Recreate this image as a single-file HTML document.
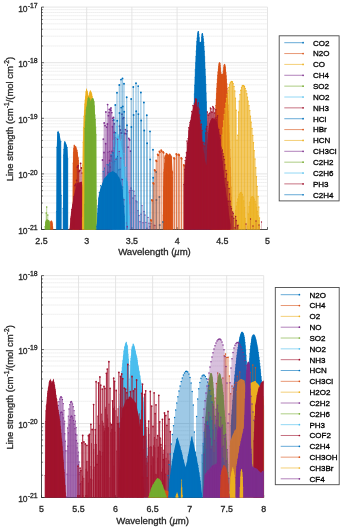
<!DOCTYPE html>
<html><head><meta charset="utf-8"><title>Line strength vs wavelength</title>
<style>html,body{margin:0;padding:0;background:#fff}svg{display:block}text{font-family:"Liberation Sans", sans-serif;stroke:#262626;stroke-width:0.3px;paint-order:stroke}</style>
</head><body>
<svg width="342" height="528" viewBox="0 0 342 528">
<rect width="342" height="528" fill="#fff"/>
<g><line x1="41.5" x2="267.5" y1="229.50" y2="229.50" stroke="#e2e2e2" stroke-width="0.9"/><line x1="41.5" x2="267.5" y1="212.76" y2="212.76" stroke="#d2d2d2" stroke-width="0.7" stroke-dasharray="0.9 1.1"/><line x1="41.5" x2="267.5" y1="202.97" y2="202.97" stroke="#d2d2d2" stroke-width="0.7" stroke-dasharray="0.9 1.1"/><line x1="41.5" x2="267.5" y1="196.03" y2="196.03" stroke="#d2d2d2" stroke-width="0.7" stroke-dasharray="0.9 1.1"/><line x1="41.5" x2="267.5" y1="190.64" y2="190.64" stroke="#d2d2d2" stroke-width="0.7" stroke-dasharray="0.9 1.1"/><line x1="41.5" x2="267.5" y1="186.23" y2="186.23" stroke="#d2d2d2" stroke-width="0.7" stroke-dasharray="0.9 1.1"/><line x1="41.5" x2="267.5" y1="182.51" y2="182.51" stroke="#d2d2d2" stroke-width="0.7" stroke-dasharray="0.9 1.1"/><line x1="41.5" x2="267.5" y1="179.29" y2="179.29" stroke="#d2d2d2" stroke-width="0.7" stroke-dasharray="0.9 1.1"/><line x1="41.5" x2="267.5" y1="176.44" y2="176.44" stroke="#d2d2d2" stroke-width="0.7" stroke-dasharray="0.9 1.1"/><line x1="41.5" x2="267.5" y1="173.90" y2="173.90" stroke="#e2e2e2" stroke-width="0.9"/><line x1="41.5" x2="267.5" y1="157.16" y2="157.16" stroke="#d2d2d2" stroke-width="0.7" stroke-dasharray="0.9 1.1"/><line x1="41.5" x2="267.5" y1="147.37" y2="147.37" stroke="#d2d2d2" stroke-width="0.7" stroke-dasharray="0.9 1.1"/><line x1="41.5" x2="267.5" y1="140.43" y2="140.43" stroke="#d2d2d2" stroke-width="0.7" stroke-dasharray="0.9 1.1"/><line x1="41.5" x2="267.5" y1="135.04" y2="135.04" stroke="#d2d2d2" stroke-width="0.7" stroke-dasharray="0.9 1.1"/><line x1="41.5" x2="267.5" y1="130.63" y2="130.63" stroke="#d2d2d2" stroke-width="0.7" stroke-dasharray="0.9 1.1"/><line x1="41.5" x2="267.5" y1="126.91" y2="126.91" stroke="#d2d2d2" stroke-width="0.7" stroke-dasharray="0.9 1.1"/><line x1="41.5" x2="267.5" y1="123.69" y2="123.69" stroke="#d2d2d2" stroke-width="0.7" stroke-dasharray="0.9 1.1"/><line x1="41.5" x2="267.5" y1="120.84" y2="120.84" stroke="#d2d2d2" stroke-width="0.7" stroke-dasharray="0.9 1.1"/><line x1="41.5" x2="267.5" y1="118.30" y2="118.30" stroke="#e2e2e2" stroke-width="0.9"/><line x1="41.5" x2="267.5" y1="101.56" y2="101.56" stroke="#d2d2d2" stroke-width="0.7" stroke-dasharray="0.9 1.1"/><line x1="41.5" x2="267.5" y1="91.77" y2="91.77" stroke="#d2d2d2" stroke-width="0.7" stroke-dasharray="0.9 1.1"/><line x1="41.5" x2="267.5" y1="84.83" y2="84.83" stroke="#d2d2d2" stroke-width="0.7" stroke-dasharray="0.9 1.1"/><line x1="41.5" x2="267.5" y1="79.44" y2="79.44" stroke="#d2d2d2" stroke-width="0.7" stroke-dasharray="0.9 1.1"/><line x1="41.5" x2="267.5" y1="75.03" y2="75.03" stroke="#d2d2d2" stroke-width="0.7" stroke-dasharray="0.9 1.1"/><line x1="41.5" x2="267.5" y1="71.31" y2="71.31" stroke="#d2d2d2" stroke-width="0.7" stroke-dasharray="0.9 1.1"/><line x1="41.5" x2="267.5" y1="68.09" y2="68.09" stroke="#d2d2d2" stroke-width="0.7" stroke-dasharray="0.9 1.1"/><line x1="41.5" x2="267.5" y1="65.24" y2="65.24" stroke="#d2d2d2" stroke-width="0.7" stroke-dasharray="0.9 1.1"/><line x1="41.5" x2="267.5" y1="62.70" y2="62.70" stroke="#e2e2e2" stroke-width="0.9"/><line x1="41.5" x2="267.5" y1="45.96" y2="45.96" stroke="#d2d2d2" stroke-width="0.7" stroke-dasharray="0.9 1.1"/><line x1="41.5" x2="267.5" y1="36.17" y2="36.17" stroke="#d2d2d2" stroke-width="0.7" stroke-dasharray="0.9 1.1"/><line x1="41.5" x2="267.5" y1="29.23" y2="29.23" stroke="#d2d2d2" stroke-width="0.7" stroke-dasharray="0.9 1.1"/><line x1="41.5" x2="267.5" y1="23.84" y2="23.84" stroke="#d2d2d2" stroke-width="0.7" stroke-dasharray="0.9 1.1"/><line x1="41.5" x2="267.5" y1="19.43" y2="19.43" stroke="#d2d2d2" stroke-width="0.7" stroke-dasharray="0.9 1.1"/><line x1="41.5" x2="267.5" y1="15.71" y2="15.71" stroke="#d2d2d2" stroke-width="0.7" stroke-dasharray="0.9 1.1"/><line x1="41.5" x2="267.5" y1="12.49" y2="12.49" stroke="#d2d2d2" stroke-width="0.7" stroke-dasharray="0.9 1.1"/><line x1="41.5" x2="267.5" y1="9.64" y2="9.64" stroke="#d2d2d2" stroke-width="0.7" stroke-dasharray="0.9 1.1"/><line x1="41.5" x2="267.5" y1="7.10" y2="7.10" stroke="#e2e2e2" stroke-width="0.9"/><line x1="41.50" x2="41.50" y1="7.1" y2="229.5" stroke="#e2e2e2" stroke-width="0.9"/><line x1="86.70" x2="86.70" y1="7.1" y2="229.5" stroke="#e2e2e2" stroke-width="0.9"/><line x1="131.90" x2="131.90" y1="7.1" y2="229.5" stroke="#e2e2e2" stroke-width="0.9"/><line x1="177.10" x2="177.10" y1="7.1" y2="229.5" stroke="#e2e2e2" stroke-width="0.9"/><line x1="222.30" x2="222.30" y1="7.1" y2="229.5" stroke="#e2e2e2" stroke-width="0.9"/><line x1="267.50" x2="267.50" y1="7.1" y2="229.5" stroke="#e2e2e2" stroke-width="0.9"/></g>
<g><line x1="41.5" x2="263.7" y1="497.50" y2="497.50" stroke="#e2e2e2" stroke-width="0.9"/><line x1="41.5" x2="263.7" y1="475.23" y2="475.23" stroke="#d2d2d2" stroke-width="0.7" stroke-dasharray="0.9 1.1"/><line x1="41.5" x2="263.7" y1="462.21" y2="462.21" stroke="#d2d2d2" stroke-width="0.7" stroke-dasharray="0.9 1.1"/><line x1="41.5" x2="263.7" y1="452.97" y2="452.97" stroke="#d2d2d2" stroke-width="0.7" stroke-dasharray="0.9 1.1"/><line x1="41.5" x2="263.7" y1="445.80" y2="445.80" stroke="#d2d2d2" stroke-width="0.7" stroke-dasharray="0.9 1.1"/><line x1="41.5" x2="263.7" y1="439.94" y2="439.94" stroke="#d2d2d2" stroke-width="0.7" stroke-dasharray="0.9 1.1"/><line x1="41.5" x2="263.7" y1="434.99" y2="434.99" stroke="#d2d2d2" stroke-width="0.7" stroke-dasharray="0.9 1.1"/><line x1="41.5" x2="263.7" y1="430.70" y2="430.70" stroke="#d2d2d2" stroke-width="0.7" stroke-dasharray="0.9 1.1"/><line x1="41.5" x2="263.7" y1="426.92" y2="426.92" stroke="#d2d2d2" stroke-width="0.7" stroke-dasharray="0.9 1.1"/><line x1="41.5" x2="263.7" y1="423.53" y2="423.53" stroke="#e2e2e2" stroke-width="0.9"/><line x1="41.5" x2="263.7" y1="401.27" y2="401.27" stroke="#d2d2d2" stroke-width="0.7" stroke-dasharray="0.9 1.1"/><line x1="41.5" x2="263.7" y1="388.24" y2="388.24" stroke="#d2d2d2" stroke-width="0.7" stroke-dasharray="0.9 1.1"/><line x1="41.5" x2="263.7" y1="379.00" y2="379.00" stroke="#d2d2d2" stroke-width="0.7" stroke-dasharray="0.9 1.1"/><line x1="41.5" x2="263.7" y1="371.83" y2="371.83" stroke="#d2d2d2" stroke-width="0.7" stroke-dasharray="0.9 1.1"/><line x1="41.5" x2="263.7" y1="365.98" y2="365.98" stroke="#d2d2d2" stroke-width="0.7" stroke-dasharray="0.9 1.1"/><line x1="41.5" x2="263.7" y1="361.02" y2="361.02" stroke="#d2d2d2" stroke-width="0.7" stroke-dasharray="0.9 1.1"/><line x1="41.5" x2="263.7" y1="356.73" y2="356.73" stroke="#d2d2d2" stroke-width="0.7" stroke-dasharray="0.9 1.1"/><line x1="41.5" x2="263.7" y1="352.95" y2="352.95" stroke="#d2d2d2" stroke-width="0.7" stroke-dasharray="0.9 1.1"/><line x1="41.5" x2="263.7" y1="349.57" y2="349.57" stroke="#e2e2e2" stroke-width="0.9"/><line x1="41.5" x2="263.7" y1="327.30" y2="327.30" stroke="#d2d2d2" stroke-width="0.7" stroke-dasharray="0.9 1.1"/><line x1="41.5" x2="263.7" y1="314.28" y2="314.28" stroke="#d2d2d2" stroke-width="0.7" stroke-dasharray="0.9 1.1"/><line x1="41.5" x2="263.7" y1="305.03" y2="305.03" stroke="#d2d2d2" stroke-width="0.7" stroke-dasharray="0.9 1.1"/><line x1="41.5" x2="263.7" y1="297.87" y2="297.87" stroke="#d2d2d2" stroke-width="0.7" stroke-dasharray="0.9 1.1"/><line x1="41.5" x2="263.7" y1="292.01" y2="292.01" stroke="#d2d2d2" stroke-width="0.7" stroke-dasharray="0.9 1.1"/><line x1="41.5" x2="263.7" y1="287.06" y2="287.06" stroke="#d2d2d2" stroke-width="0.7" stroke-dasharray="0.9 1.1"/><line x1="41.5" x2="263.7" y1="282.77" y2="282.77" stroke="#d2d2d2" stroke-width="0.7" stroke-dasharray="0.9 1.1"/><line x1="41.5" x2="263.7" y1="278.98" y2="278.98" stroke="#d2d2d2" stroke-width="0.7" stroke-dasharray="0.9 1.1"/><line x1="41.5" x2="263.7" y1="275.60" y2="275.60" stroke="#e2e2e2" stroke-width="0.9"/><line x1="41.50" x2="41.50" y1="275.6" y2="497.5" stroke="#e2e2e2" stroke-width="0.9"/><line x1="78.53" x2="78.53" y1="275.6" y2="497.5" stroke="#e2e2e2" stroke-width="0.9"/><line x1="115.57" x2="115.57" y1="275.6" y2="497.5" stroke="#e2e2e2" stroke-width="0.9"/><line x1="152.60" x2="152.60" y1="275.6" y2="497.5" stroke="#e2e2e2" stroke-width="0.9"/><line x1="189.63" x2="189.63" y1="275.6" y2="497.5" stroke="#e2e2e2" stroke-width="0.9"/><line x1="226.67" x2="226.67" y1="275.6" y2="497.5" stroke="#e2e2e2" stroke-width="0.9"/><line x1="263.70" x2="263.70" y1="275.6" y2="497.5" stroke="#e2e2e2" stroke-width="0.9"/></g>
<g><path d="M41.5 7.1V229.5H267.5" fill="none" stroke="#262626" stroke-width="0.8"/><path d="M41.5 229.50h2.4M41.5 212.76h1.3M41.5 202.97h1.3M41.5 196.03h1.3M41.5 190.64h1.3M41.5 186.23h1.3M41.5 182.51h1.3M41.5 179.29h1.3M41.5 176.44h1.3M41.5 173.90h2.4M41.5 157.16h1.3M41.5 147.37h1.3M41.5 140.43h1.3M41.5 135.04h1.3M41.5 130.63h1.3M41.5 126.91h1.3M41.5 123.69h1.3M41.5 120.84h1.3M41.5 118.30h2.4M41.5 101.56h1.3M41.5 91.77h1.3M41.5 84.83h1.3M41.5 79.44h1.3M41.5 75.03h1.3M41.5 71.31h1.3M41.5 68.09h1.3M41.5 65.24h1.3M41.5 62.70h2.4M41.5 45.96h1.3M41.5 36.17h1.3M41.5 29.23h1.3M41.5 23.84h1.3M41.5 19.43h1.3M41.5 15.71h1.3M41.5 12.49h1.3M41.5 9.64h1.3M41.5 7.10h2.4M41.50 229.5v-2.4M86.70 229.5v-2.4M131.90 229.5v-2.4M177.10 229.5v-2.4M222.30 229.5v-2.4M267.50 229.5v-2.4" fill="none" stroke="#262626" stroke-width="0.7"/></g>
<g><path d="M41.5 275.6V497.5H263.7" fill="none" stroke="#262626" stroke-width="0.8"/><path d="M41.5 497.50h2.4M41.5 475.23h1.3M41.5 462.21h1.3M41.5 452.97h1.3M41.5 445.80h1.3M41.5 439.94h1.3M41.5 434.99h1.3M41.5 430.70h1.3M41.5 426.92h1.3M41.5 423.53h2.4M41.5 401.27h1.3M41.5 388.24h1.3M41.5 379.00h1.3M41.5 371.83h1.3M41.5 365.98h1.3M41.5 361.02h1.3M41.5 356.73h1.3M41.5 352.95h1.3M41.5 349.57h2.4M41.5 327.30h1.3M41.5 314.28h1.3M41.5 305.03h1.3M41.5 297.87h1.3M41.5 292.01h1.3M41.5 287.06h1.3M41.5 282.77h1.3M41.5 278.98h1.3M41.5 275.60h2.4M41.50 497.5v-2.4M78.53 497.5v-2.4M115.57 497.5v-2.4M152.60 497.5v-2.4M189.63 497.5v-2.4M226.67 497.5v-2.4M263.70 497.5v-2.4" fill="none" stroke="#262626" stroke-width="0.7"/></g>
<path d="M56.4 229.5L56.4 209.6L56.8 146.8L57.2 134.0L57.6 132.3L58.0 130.6L58.4 131.6L58.8 132.5L59.2 133.8L59.6 135.4L60.0 137.0L60.4 139.0L60.8 141.0L61.2 194.7L61.2 229.5Z" fill="#0072BD" fill-opacity="1.0" stroke="none"/>
<path d="M56.4 229.5V211.5M56.7 229.5V147.3M57.7 229.5V132.4M58.1 229.5V132.1M58.4 229.5V132.3M58.8 229.5V133.4M59.3 229.5V134.1M59.5 229.5V136.0M60.5 229.5V142.1M60.9 229.5V141.5M61.3 229.5V195.4" fill="none" stroke="#0072BD" stroke-width="0.5" stroke-opacity="1.0"/>
<path d="M56.4 211.5h0M56.7 147.3h0M57.7 132.4h0M58.1 132.1h0M58.4 132.3h0M58.8 133.4h0M59.3 134.1h0M59.5 136.0h0M60.5 142.1h0M60.9 141.5h0M61.3 195.4h0" fill="none" stroke="#0072BD" stroke-width="1.0" stroke-linecap="round"/>
<path d="M63.1 229.5L63.1 206.3L63.5 154.0L63.9 144.4L64.3 141.8L64.7 140.8L65.1 141.4L65.5 142.0L65.9 143.1L66.3 144.1L66.7 145.2L67.1 146.8L67.5 149.8L67.9 157.8L67.9 229.5Z" fill="#0072BD" fill-opacity="1.0" stroke="none"/>
<path d="M63.0 229.5V208.4M63.5 229.5V155.1M63.8 229.5V149.4M64.3 229.5V143.2M64.8 229.5V142.0M65.2 229.5V145.0M65.4 229.5V143.7M65.9 229.5V147.3M66.2 229.5V145.1M66.6 229.5V146.7M67.2 229.5V147.5M67.8 229.5V158.7" fill="none" stroke="#0072BD" stroke-width="0.5" stroke-opacity="1.0"/>
<path d="M63.0 208.4h0M63.5 155.1h0M63.8 149.4h0M64.3 143.2h0M64.8 142.0h0M65.2 145.0h0M65.4 143.7h0M65.9 147.3h0M66.2 145.1h0M66.6 146.7h0M67.2 147.5h0M67.8 158.7h0" fill="none" stroke="#0072BD" stroke-width="1.0" stroke-linecap="round"/>
<path d="M189.0 229.5L189.0 229.5L189.3 229.5L189.6 229.5L189.9 229.5L190.2 229.5L190.5 229.5L190.8 229.5L191.1 226.3L191.4 211.5L191.7 197.3L192.0 183.6L192.3 170.4L192.6 157.8L192.9 145.8L193.2 134.3L193.5 123.3L193.8 112.9L194.1 103.1L194.4 93.9L194.7 85.3L195.0 77.2L195.3 69.7L195.6 62.9L195.9 56.6L196.2 51.0L196.5 46.0L196.8 41.7L197.1 38.1L197.4 35.2L197.7 33.1L198.0 31.8L198.3 31.5L198.6 32.2L198.9 34.3L199.2 37.9L199.5 42.5L199.8 42.5L200.1 42.5L200.4 42.5L200.7 42.5L201.0 42.5L201.3 41.6L201.6 37.3L201.9 34.8L202.2 33.6L202.5 33.6L202.8 34.6L203.1 36.4L203.4 39.0L203.7 42.4L204.0 46.5L204.3 51.3L204.6 56.7L204.9 62.7L205.2 69.4L205.5 76.6L205.8 84.5L206.1 93.0L206.4 102.0L206.7 111.6L207.0 121.8L207.3 132.5L207.6 143.9L207.9 155.7L208.2 168.2L208.5 181.1L208.8 194.7L209.1 208.7L209.4 223.3L209.7 229.5L210.0 229.5L210.3 229.5L210.6 229.5L210.9 229.5L211.2 229.5L211.5 229.5L211.8 229.5L211.8 229.5Z" fill="#0072BD" fill-opacity="1.0" stroke="none"/>
<path d="M191.2 229.5V226.3M191.5 229.5V211.5M191.7 229.5V197.3M192.1 229.5V183.6M192.2 229.5V170.4M192.5 229.5V157.8M192.9 229.5V145.8M193.1 229.5V134.3M193.4 229.5V123.3M193.8 229.5V112.9M194.1 229.5V103.1M194.3 229.5V93.9M194.6 229.5V85.3M195.1 229.5V77.2M195.2 229.5V69.7M195.7 229.5V62.9M196.0 229.5V56.6M196.2 229.5V51.0M196.5 229.5V46.0M196.8 229.5V41.7M197.1 229.5V38.1M197.4 229.5V35.2M197.7 229.5V33.1M198.0 229.5V31.8M198.4 229.5V31.5M198.6 229.5V32.2M198.9 229.5V34.3M199.3 229.5V37.9M199.4 229.5V42.5M199.7 229.5V42.5M200.2 229.5V42.5M200.4 229.5V42.5M200.7 229.5V42.5M200.9 229.5V42.5M201.3 229.5V41.6M201.6 229.5V37.3M201.8 229.5V34.8M202.2 229.5V33.6M202.5 229.5V33.6M202.7 229.5V34.6M203.1 229.5V36.4M203.4 229.5V39.0M203.8 229.5V42.4M204.0 229.5V46.5M204.4 229.5V51.3M204.7 229.5V56.7M204.8 229.5V62.7M205.1 229.5V69.4M205.6 229.5V76.6M205.9 229.5V84.5M206.0 229.5V93.0M206.4 229.5V102.0M206.7 229.5V111.6M206.9 229.5V121.8M207.3 229.5V132.5M207.5 229.5V143.9M207.9 229.5V155.7M208.2 229.5V168.2M208.4 229.5V181.1M208.8 229.5V194.7M209.2 229.5V208.7M209.3 229.5V223.3" fill="none" stroke="#0072BD" stroke-width="0.5" stroke-opacity="1.0"/>
<path d="M191.2 226.3h0M191.5 211.5h0M191.7 197.3h0M192.1 183.6h0M192.2 170.4h0M192.5 157.8h0M192.9 145.8h0M193.1 134.3h0M193.4 123.3h0M193.8 112.9h0M194.1 103.1h0M194.3 93.9h0M194.6 85.3h0M195.1 77.2h0M195.2 69.7h0M195.7 62.9h0M196.0 56.6h0M196.2 51.0h0M196.5 46.0h0M196.8 41.7h0M197.1 38.1h0M197.4 35.2h0M197.7 33.1h0M198.0 31.8h0M198.4 31.5h0M198.6 32.2h0M198.9 34.3h0M199.3 37.9h0M199.4 42.5h0M199.7 42.5h0M200.2 42.5h0M200.4 42.5h0M200.7 42.5h0M200.9 42.5h0M201.3 41.6h0M201.6 37.3h0M201.8 34.8h0M202.2 33.6h0M202.5 33.6h0M202.7 34.6h0M203.1 36.4h0M203.4 39.0h0M203.8 42.4h0M204.0 46.5h0M204.4 51.3h0M204.7 56.7h0M204.8 62.7h0M205.1 69.4h0M205.6 76.6h0M205.9 84.5h0M206.0 93.0h0M206.4 102.0h0M206.7 111.6h0M206.9 121.8h0M207.3 132.5h0M207.5 143.9h0M207.9 155.7h0M208.2 168.2h0M208.4 181.1h0M208.8 194.7h0M209.2 208.7h0M209.3 223.3h0" fill="none" stroke="#0072BD" stroke-width="1.0" stroke-linecap="round"/>
<path d="M50.0 229.5L50.0 229.5L50.4 221.5L50.8 220.8L51.2 220.2L51.6 220.4L52.0 221.0L52.4 221.5L52.8 225.5L53.2 229.5L53.2 229.5Z" fill="#D95319" fill-opacity="1.0" stroke="none"/>
<path d="M50.4 229.5V222.6M50.9 229.5V221.6M51.1 229.5V222.9M51.6 229.5V221.5M52.0 229.5V222.8M52.3 229.5V224.0M52.7 229.5V226.8" fill="none" stroke="#D95319" stroke-width="0.5" stroke-opacity="1.0"/>
<path d="M50.4 222.6h0M50.9 221.6h0M51.1 222.9h0M51.6 221.5h0M52.0 222.8h0M52.3 224.0h0M52.7 226.8h0" fill="none" stroke="#D95319" stroke-width="1.0" stroke-linecap="round"/>
<path d="M72.6 229.5L72.6 213.4L73.0 162.0L73.4 150.0L73.8 145.9L74.2 144.4L74.6 144.9L75.0 145.4L75.4 145.9L75.8 146.8L76.2 147.9L76.6 148.9L77.0 150.0L77.4 152.1L77.8 154.3L78.2 156.4L78.6 160.4L79.0 170.1L79.0 229.5Z" fill="#D95319" fill-opacity="1.0" stroke="none"/>
<path d="M72.5 229.5V214.0M73.1 229.5V163.1M73.4 229.5V152.3M73.7 229.5V148.7M74.1 229.5V145.3M74.6 229.5V148.3M75.0 229.5V147.2M75.5 229.5V146.9M75.9 229.5V146.9M76.3 229.5V148.0M76.7 229.5V151.1M77.1 229.5V150.2M77.5 229.5V152.7M77.8 229.5V157.5M78.2 229.5V158.0M78.5 229.5V160.6M78.9 229.5V172.6" fill="none" stroke="#D95319" stroke-width="0.5" stroke-opacity="1.0"/>
<path d="M72.5 214.0h0M73.1 163.1h0M73.4 152.3h0M73.7 148.7h0M74.1 145.3h0M74.6 148.3h0M75.0 147.2h0M75.5 146.9h0M75.9 146.9h0M76.3 148.0h0M76.7 151.1h0M77.1 150.2h0M77.5 152.7h0M77.8 157.5h0M78.2 158.0h0M78.5 160.6h0M78.9 172.6h0" fill="none" stroke="#D95319" stroke-width="1.0" stroke-linecap="round"/>
<path d="M163.0 229.5L163.0 213.9L163.4 182.8L163.8 171.2L164.2 166.1L164.6 161.1L165.0 156.0L165.4 155.1L165.8 154.1L166.2 153.2L166.6 152.7L167.0 153.3L167.4 154.0L167.8 154.7L168.2 154.8L168.6 154.5L169.0 154.2L169.4 153.9L169.8 153.6L170.2 153.9L170.6 154.7L171.0 155.4L171.4 156.2L171.8 157.0L172.2 166.2L172.6 175.4L172.6 229.5Z" fill="#D95319" fill-opacity="1.0" stroke="none"/>
<path d="M163.1 229.5V215.0M163.5 229.5V186.9M163.9 229.5V172.4M164.2 229.5V169.5M164.5 229.5V163.7M164.9 229.5V156.0M165.4 229.5V156.3M165.9 229.5V156.2M166.2 229.5V153.5M166.7 229.5V153.5M167.0 229.5V154.6M167.3 229.5V154.4M167.8 229.5V156.5M168.3 229.5V155.3M168.7 229.5V155.7M168.9 229.5V155.5M169.4 229.5V157.4M169.7 229.5V154.1M170.1 229.5V154.4M170.6 229.5V156.7M171.1 229.5V155.8M171.3 229.5V156.9M171.7 229.5V157.0M172.3 229.5V171.1M172.5 229.5V177.7" fill="none" stroke="#D95319" stroke-width="0.5" stroke-opacity="1.0"/>
<path d="M163.1 215.0h0M163.5 186.9h0M163.9 172.4h0M164.2 169.5h0M164.5 163.7h0M164.9 156.0h0M165.4 156.3h0M165.9 156.2h0M166.2 153.5h0M166.7 153.5h0M167.0 154.6h0M167.3 154.4h0M167.8 156.5h0M168.3 155.3h0M168.7 155.7h0M168.9 155.5h0M169.4 157.4h0M169.7 154.1h0M170.1 154.4h0M170.6 156.7h0M171.1 155.8h0M171.3 156.9h0M171.7 157.0h0M172.3 171.1h0M172.5 177.7h0" fill="none" stroke="#D95319" stroke-width="1.0" stroke-linecap="round"/>
<path d="M211.0 229.5L211.0 229.5L211.3 229.5L211.6 229.5L211.9 221.6L212.2 210.3L212.5 199.4L212.8 188.9L213.1 178.8L213.4 169.1L213.7 159.7L214.0 150.8L214.3 142.2L214.6 134.1L214.9 126.3L215.2 119.0L215.5 112.0L215.8 105.5L216.1 99.4L216.4 93.7L216.7 88.5L217.0 83.7L217.3 79.3L217.6 75.4L217.9 72.0L218.2 69.1L218.5 66.7L218.8 64.8L219.1 63.5L219.4 62.8L219.7 62.8L220.0 63.6L220.3 65.3L220.6 68.1L220.9 72.4L221.2 74.4L221.5 74.4L221.8 74.4L222.1 74.4L222.4 74.4L222.7 74.4L223.0 74.4L223.3 71.0L223.6 67.8L223.9 65.7L224.2 64.7L224.5 64.4L224.8 64.9L225.1 66.0L225.4 67.7L225.7 69.9L226.0 72.7L226.3 75.9L226.6 79.7L226.9 83.9L227.2 88.5L227.5 93.6L227.8 99.2L228.1 105.1L228.4 111.5L228.7 118.3L229.0 125.5L229.3 133.2L229.6 141.2L229.9 149.6L230.2 158.4L230.5 167.6L230.8 177.2L231.1 187.2L231.4 197.6L231.7 208.4L232.0 219.5L232.3 229.5L232.6 229.5L232.9 229.5L233.2 229.5L233.5 229.5L233.8 229.5L233.8 229.5Z" fill="#D95319" fill-opacity="1.0" stroke="none"/>
<path d="M211.9 229.5V221.6M212.2 229.5V210.3M212.5 229.5V199.4M212.8 229.5V188.9M213.0 229.5V178.8M213.3 229.5V169.1M213.6 229.5V159.7M214.0 229.5V150.8M214.4 229.5V142.2M214.6 229.5V134.1M214.8 229.5V126.3M215.1 229.5V119.0M215.5 229.5V112.0M215.8 229.5V105.5M216.2 229.5V99.4M216.4 229.5V93.7M216.8 229.5V88.5M217.0 229.5V83.7M217.3 229.5V79.3M217.6 229.5V75.4M217.9 229.5V72.0M218.3 229.5V69.1M218.5 229.5V66.7M218.9 229.5V64.8M219.1 229.5V63.5M219.3 229.5V62.8M219.7 229.5V62.8M220.1 229.5V63.6M220.2 229.5V65.3M220.6 229.5V68.1M220.9 229.5V72.4M221.3 229.5V74.4M221.6 229.5V74.4M221.8 229.5V74.4M222.2 229.5V74.4M222.5 229.5V74.4M222.6 229.5V74.4M223.0 229.5V74.4M223.2 229.5V71.0M223.7 229.5V67.8M223.9 229.5V65.7M224.3 229.5V64.7M224.6 229.5V64.4M224.9 229.5V64.9M225.2 229.5V66.0M225.4 229.5V67.7M225.6 229.5V69.9M226.0 229.5V72.7M226.2 229.5V75.9M226.5 229.5V79.7M227.0 229.5V83.9M227.1 229.5V88.5M227.4 229.5V93.6M227.7 229.5V99.2M228.2 229.5V105.1M228.3 229.5V111.5M228.6 229.5V118.3M229.1 229.5V125.5M229.2 229.5V133.2M229.7 229.5V141.2M230.0 229.5V149.6M230.3 229.5V158.4M230.6 229.5V167.6M230.8 229.5V177.2M231.2 229.5V187.2M231.3 229.5V197.6M231.8 229.5V208.4M232.0 229.5V219.5" fill="none" stroke="#D95319" stroke-width="0.5" stroke-opacity="1.0"/>
<path d="M211.9 221.6h0M212.2 210.3h0M212.5 199.4h0M212.8 188.9h0M213.0 178.8h0M213.3 169.1h0M213.6 159.7h0M214.0 150.8h0M214.4 142.2h0M214.6 134.1h0M214.8 126.3h0M215.1 119.0h0M215.5 112.0h0M215.8 105.5h0M216.2 99.4h0M216.4 93.7h0M216.8 88.5h0M217.0 83.7h0M217.3 79.3h0M217.6 75.4h0M217.9 72.0h0M218.3 69.1h0M218.5 66.7h0M218.9 64.8h0M219.1 63.5h0M219.3 62.8h0M219.7 62.8h0M220.1 63.6h0M220.2 65.3h0M220.6 68.1h0M220.9 72.4h0M221.3 74.4h0M221.6 74.4h0M221.8 74.4h0M222.2 74.4h0M222.5 74.4h0M222.6 74.4h0M223.0 74.4h0M223.2 71.0h0M223.7 67.8h0M223.9 65.7h0M224.3 64.7h0M224.6 64.4h0M224.9 64.9h0M225.2 66.0h0M225.4 67.7h0M225.6 69.9h0M226.0 72.7h0M226.2 75.9h0M226.5 79.7h0M227.0 83.9h0M227.1 88.5h0M227.4 93.6h0M227.7 99.2h0M228.2 105.1h0M228.3 111.5h0M228.6 118.3h0M229.1 125.5h0M229.2 133.2h0M229.7 141.2h0M230.0 149.6h0M230.3 158.4h0M230.6 167.6h0M230.8 177.2h0M231.2 187.2h0M231.3 197.6h0M231.8 208.4h0M232.0 219.5h0" fill="none" stroke="#D95319" stroke-width="1.0" stroke-linecap="round"/>
<path d="M222.0 229.5V135.3M222.8 229.5V127.9M223.5 229.5V121.0M224.2 229.5V114.6M225.0 229.5V108.7M225.8 229.5V103.3M226.5 229.5V98.5M227.2 229.5V94.2M228.0 229.5V90.5M228.8 229.5V87.4M229.5 229.5V84.8M230.2 229.5V83.0M231.0 229.5V81.9M231.8 229.5V81.5M232.5 229.5V82.0M233.2 229.5V83.6M234.0 229.5V86.4M234.8 229.5V90.9M235.5 229.5V98.1M236.2 229.5V110.3M237.0 229.5V140.1M237.8 229.5V135.2M238.5 229.5V112.0M239.2 229.5V101.1M240.0 229.5V94.5M240.8 229.5V90.2M241.5 229.5V87.6M242.2 229.5V86.0M243.0 229.5V85.5M243.8 229.5V85.8M244.5 229.5V86.8M245.2 229.5V88.5M246.0 229.5V90.8M246.8 229.5V93.7M247.5 229.5V97.1M248.2 229.5V101.1M249.0 229.5V105.6M249.8 229.5V110.6M250.5 229.5V116.1M251.2 229.5V122.1M252.0 229.5V128.5M252.8 229.5V135.4M253.5 229.5V142.8M254.2 229.5V150.6M255.0 229.5V158.9M255.8 229.5V167.7M256.5 229.5V176.8M257.2 229.5V186.4M258.0 229.5V196.5M258.8 229.5V207.0M259.5 229.5V217.9" fill="none" stroke="#EDB120" stroke-width="0.9" stroke-opacity="0.82"/>
<path d="M222.0 135.3h0M222.8 127.9h0M223.5 121.0h0M224.2 114.6h0M225.0 108.7h0M225.8 103.3h0M226.5 98.5h0M227.2 94.2h0M228.0 90.5h0M228.8 87.4h0M229.5 84.8h0M230.2 83.0h0M231.0 81.9h0M231.8 81.5h0M232.5 82.0h0M233.2 83.6h0M234.0 86.4h0M234.8 90.9h0M235.5 98.1h0M236.2 110.3h0M237.0 140.1h0M237.8 135.2h0M238.5 112.0h0M239.2 101.1h0M240.0 94.5h0M240.8 90.2h0M241.5 87.6h0M242.2 86.0h0M243.0 85.5h0M243.8 85.8h0M244.5 86.8h0M245.2 88.5h0M246.0 90.8h0M246.8 93.7h0M247.5 97.1h0M248.2 101.1h0M249.0 105.6h0M249.8 110.6h0M250.5 116.1h0M251.2 122.1h0M252.0 128.5h0M252.8 135.4h0M253.5 142.8h0M254.2 150.6h0M255.0 158.9h0M255.8 167.7h0M256.5 176.8h0M257.2 186.4h0M258.0 196.5h0M258.8 207.0h0M259.5 217.9h0" fill="none" stroke="#EDB120" stroke-width="1.4" stroke-linecap="round"/>
<path d="M233.3 229.5V226.9M234.1 229.5V220.9M234.8 229.5V215.4M235.6 229.5V210.5M236.3 229.5V206.1M237.1 229.5V202.3M237.8 229.5V199.0M238.6 229.5V196.4M239.3 229.5V194.4M240.1 229.5V193.1M240.8 229.5V192.6M241.6 229.5V192.9M242.3 229.5V194.3M243.1 229.5V196.8M243.8 229.5V200.9M244.6 229.5V207.5M245.3 229.5V218.3M247.6 229.5V226.2M248.3 229.5V213.9M249.1 229.5V206.7M249.8 229.5V202.1M250.6 229.5V199.1M251.3 229.5V197.4M252.1 229.5V196.6M252.8 229.5V196.8M253.6 229.5V197.7M254.3 229.5V199.2M255.1 229.5V201.4M255.8 229.5V204.2M256.6 229.5V207.5M257.3 229.5V211.4M258.1 229.5V215.8M258.8 229.5V220.7M259.6 229.5V226.1" fill="none" stroke="#EDB120" stroke-width="0.9" stroke-opacity="0.9"/>
<path d="M233.3 226.9h0M234.1 220.9h0M234.8 215.4h0M235.6 210.5h0M236.3 206.1h0M237.1 202.3h0M237.8 199.0h0M238.6 196.4h0M239.3 194.4h0M240.1 193.1h0M240.8 192.6h0M241.6 192.9h0M242.3 194.3h0M243.1 196.8h0M243.8 200.9h0M244.6 207.5h0M245.3 218.3h0M247.6 226.2h0M248.3 213.9h0M249.1 206.7h0M249.8 202.1h0M250.6 199.1h0M251.3 197.4h0M252.1 196.6h0M252.8 196.8h0M253.6 197.7h0M254.3 199.2h0M255.1 201.4h0M255.8 204.2h0M256.6 207.5h0M257.3 211.4h0M258.1 215.8h0M258.8 220.7h0M259.6 226.1h0" fill="none" stroke="#EDB120" stroke-width="1.3" stroke-linecap="round"/>
<path d="M102.5 229.5V160.0M103.3 229.5V139.1M104.2 229.5V123.0M105.0 229.5V125.7M105.9 229.5V112.0M106.7 229.5V127.1M107.6 229.5V104.6M108.4 229.5V115.7M109.3 229.5V109.3M110.1 229.5V109.5M111.0 229.5V107.9M111.8 229.5V112.6M112.7 229.5V118.2M113.5 229.5V117.4M114.4 229.5V132.4M115.2 229.5V138.1M116.1 229.5V200.9M116.9 229.5V154.9M117.8 229.5V140.4M118.6 229.5V145.5M119.5 229.5V126.2M120.3 229.5V130.0M121.2 229.5V133.0M122.0 229.5V114.2M122.9 229.5V118.5M123.7 229.5V117.6M124.6 229.5V133.5M125.4 229.5V129.6M126.3 229.5V133.8M127.1 229.5V130.9M128.0 229.5V147.2M128.8 229.5V138.5M129.7 229.5V139.9M130.5 229.5V151.1" fill="none" stroke="#7E2F8E" stroke-width="1.2" stroke-opacity="0.42"/>
<path d="M102.5 160.0h0M103.3 139.1h0M104.2 123.0h0M105.0 125.7h0M105.9 112.0h0M106.7 127.1h0M107.6 104.6h0M108.4 115.7h0M109.3 109.3h0M110.1 109.5h0M111.0 107.9h0M111.8 112.6h0M112.7 118.2h0M113.5 117.4h0M114.4 132.4h0M115.2 138.1h0M116.1 200.9h0M116.9 154.9h0M117.8 140.4h0M118.6 145.5h0M119.5 126.2h0M120.3 130.0h0M121.2 133.0h0M122.0 114.2h0M122.9 118.5h0M123.7 117.6h0M124.6 133.5h0M125.4 129.6h0M126.3 133.8h0M127.1 130.9h0M128.0 147.2h0M128.8 138.5h0M129.7 139.9h0M130.5 151.1h0" fill="none" stroke="#7E2F8E" stroke-width="1.8" stroke-linecap="round"/>
<path d="M104.0 229.5V152.5M105.7 229.5V143.7M107.4 229.5V124.0M109.1 229.5V112.4M110.8 229.5V110.2M112.5 229.5V126.7M114.2 229.5V123.7M115.9 229.5V138.5M117.6 229.5V148.1M119.3 229.5V152.6" fill="none" stroke="#7E2F8E" stroke-width="1.2" stroke-opacity="0.6"/>
<path d="M104.0 152.5h0M105.7 143.7h0M107.4 124.0h0M109.1 112.4h0M110.8 110.2h0M112.5 126.7h0M114.2 123.7h0M115.9 138.5h0M117.6 148.1h0M119.3 152.6h0" fill="none" stroke="#7E2F8E" stroke-width="1.8" stroke-linecap="round"/>
<path d="M129.0 229.5V192.1M130.0 229.5V190.4M131.0 229.5V188.0M132.0 229.5V190.3M133.0 229.5V198.0M134.0 229.5V191.1M135.0 229.5V195.7M136.0 229.5V200.8M137.0 229.5V201.8M138.0 229.5V210.6M139.0 229.5V215.5M140.0 229.5V221.7M141.0 229.5V214.1M142.0 229.5V205.6M143.0 229.5V222.7M144.0 229.5V211.4M145.0 229.5V215.0M146.0 229.5V222.3M147.0 229.5V228.1M148.0 229.5V217.4M149.0 229.5V223.2M150.0 229.5V226.5M151.0 229.5V223.5M154.0 229.5V225.1M155.0 229.5V225.5" fill="none" stroke="#7E2F8E" stroke-width="0.9" stroke-opacity="0.5"/>
<path d="M129.0 192.1h0M130.0 190.4h0M131.0 188.0h0M132.0 190.3h0M133.0 198.0h0M134.0 191.1h0M135.0 195.7h0M136.0 200.8h0M137.0 201.8h0M138.0 210.6h0M139.0 215.5h0M140.0 221.7h0M141.0 214.1h0M142.0 205.6h0M143.0 222.7h0M144.0 211.4h0M145.0 215.0h0M146.0 222.3h0M147.0 228.1h0M148.0 217.4h0M149.0 223.2h0M150.0 226.5h0M151.0 223.5h0M154.0 225.1h0M155.0 225.5h0" fill="none" stroke="#7E2F8E" stroke-width="1.3" stroke-linecap="round"/>
<path d="M45.0 229.5L45.0 226.1L45.5 220.8L46.0 220.3L46.5 219.8L47.0 219.3L47.5 219.5L48.0 219.8L48.5 220.0L49.0 220.2L49.5 220.5L50.0 224.5L50.0 229.5Z" fill="#77AC30" fill-opacity="1.0" stroke="none"/>
<path d="M44.9 229.5V226.7M45.6 229.5V222.2M45.9 229.5V223.0M46.6 229.5V223.1M47.1 229.5V220.1M47.4 229.5V221.5M47.9 229.5V222.9M48.5 229.5V222.1M48.9 229.5V222.8M49.5 229.5V221.9M49.9 229.5V226.6" fill="none" stroke="#77AC30" stroke-width="0.5" stroke-opacity="1.0"/>
<path d="M44.9 226.7h0M45.6 222.2h0M45.9 223.0h0M46.6 223.1h0M47.1 220.1h0M47.4 221.5h0M47.9 222.9h0M48.5 222.1h0M48.9 222.8h0M49.5 221.9h0M49.9 226.6h0" fill="none" stroke="#77AC30" stroke-width="1.0" stroke-linecap="round"/>
<path d="M46.7 229.5V207.0M46.2 229.5V213.0M47.8 229.5V215.0" fill="none" stroke="#77AC30" stroke-width="0.8" stroke-opacity="0.6"/>
<path d="M46.7 207.0h0M46.2 213.0h0M47.8 215.0h0" fill="none" stroke="#77AC30" stroke-width="1.5" stroke-linecap="round"/>
<path d="M121.5 229.5L121.5 229.5L121.9 217.7L122.3 205.9L122.7 197.6L123.1 192.8L123.5 188.0L123.9 183.2L124.3 181.1L124.7 179.9L125.1 178.7L125.5 177.5L125.9 176.3L126.3 177.5L126.7 179.5L127.1 181.5L127.5 183.5L127.9 185.5L128.3 190.6L128.7 196.8L129.1 202.9L129.5 215.4L129.5 229.5Z" fill="#4DBEEE" fill-opacity="1.0" stroke="none"/>
<path d="M121.9 229.5V221.5M122.2 229.5V207.0M122.6 229.5V198.5M123.2 229.5V198.6M123.6 229.5V189.5M123.9 229.5V184.2M124.2 229.5V182.0M124.8 229.5V186.6M125.0 229.5V182.8M125.6 229.5V183.5M125.9 229.5V182.1M126.2 229.5V178.9M126.8 229.5V183.2M127.2 229.5V181.6M127.5 229.5V185.8M127.9 229.5V186.5M128.3 229.5V194.2M128.6 229.5V204.4M129.0 229.5V204.9M129.6 229.5V216.3" fill="none" stroke="#4DBEEE" stroke-width="0.5" stroke-opacity="1.0"/>
<path d="M121.9 221.5h0M122.2 207.0h0M122.6 198.5h0M123.2 198.6h0M123.6 189.5h0M123.9 184.2h0M124.2 182.0h0M124.8 186.6h0M125.0 182.8h0M125.6 183.5h0M125.9 182.1h0M126.2 178.9h0M126.8 183.2h0M127.2 181.6h0M127.5 185.8h0M127.9 186.5h0M128.3 194.2h0M128.6 204.4h0M129.0 204.9h0M129.6 216.3h0" fill="none" stroke="#4DBEEE" stroke-width="1.0" stroke-linecap="round"/>
<path d="M69.7 229.5L69.7 227.2L70.2 221.9L70.6 216.7L71.1 211.7L71.5 209.2L72.0 206.6L72.4 204.1L72.9 201.5L73.3 199.0L73.8 196.4L74.2 194.2L74.7 192.4L75.1 190.6L75.6 188.8L76.0 187.0L76.5 185.2L76.9 183.4L77.4 182.9L77.8 182.8L78.3 182.6L78.7 182.5L79.2 182.4L79.6 182.2L80.1 182.1L80.5 181.9L81.0 181.8L81.4 181.7L81.9 181.5L82.3 184.2L82.8 188.3L83.2 192.3L83.7 205.4L83.7 229.5Z" fill="#A2142F" fill-opacity="1.0" stroke="none"/>
<path d="M70.1 229.5V228.5M70.5 229.5V218.8M71.1 229.5V216.9M71.6 229.5V209.5M71.9 229.5V217.9M72.5 229.5V204.9M72.7 229.5V210.3M73.4 229.5V205.7M73.7 229.5V196.6M74.2 229.5V198.7M74.7 229.5V200.3M75.0 229.5V201.1M75.5 229.5V202.7M76.1 229.5V190.6M76.5 229.5V187.8M76.9 229.5V185.7M77.4 229.5V188.2M77.8 229.5V188.8M78.1 229.5V196.3M78.7 229.5V187.2M79.2 229.5V185.9M79.7 229.5V184.2M79.9 229.5V188.6M80.6 229.5V188.2M80.9 229.5V199.7M81.4 229.5V192.9M82.0 229.5V185.4M82.4 229.5V187.1M82.7 229.5V195.2M83.1 229.5V204.0M83.7 229.5V214.0" fill="none" stroke="#A2142F" stroke-width="0.5" stroke-opacity="1.0"/>
<path d="M70.1 228.5h0M70.5 218.8h0M71.1 216.9h0M71.6 209.5h0M71.9 217.9h0M72.5 204.9h0M72.7 210.3h0M73.4 205.7h0M73.7 196.6h0M74.2 198.7h0M74.7 200.3h0M75.0 201.1h0M75.5 202.7h0M76.1 190.6h0M76.5 187.8h0M76.9 185.7h0M77.4 188.2h0M77.8 188.8h0M78.1 196.3h0M78.7 187.2h0M79.2 185.9h0M79.7 184.2h0M79.9 188.6h0M80.6 188.2h0M80.9 199.7h0M81.4 192.9h0M82.0 185.4h0M82.4 187.1h0M82.7 195.2h0M83.1 204.0h0M83.7 214.0h0" fill="none" stroke="#A2142F" stroke-width="1.0" stroke-linecap="round"/>
<path d="M75.0 229.5V185.5M75.8 229.5V184.1M76.6 229.5V180.3M77.4 229.5V167.1M78.2 229.5V165.6M79.0 229.5V171.4M79.8 229.5V170.5M80.6 229.5V163.3M81.4 229.5V168.0M82.2 229.5V173.1M83.0 229.5V195.8" fill="none" stroke="#A2142F" stroke-width="1.2" stroke-opacity="0.5"/>
<path d="M75.0 185.5h0M75.8 184.1h0M76.6 180.3h0M77.4 167.1h0M78.2 165.6h0M79.0 171.4h0M79.8 170.5h0M80.6 163.3h0M81.4 168.0h0M82.2 173.1h0M83.0 195.8h0" fill="none" stroke="#A2142F" stroke-width="1.8" stroke-linecap="round"/>
<path d="M113.7 229.5V120.0M115.3 229.5V105.0M117.0 229.5V92.8M119.3 229.5V85.0M121.0 229.5V79.6M122.5 229.5V78.4M124.0 229.5V83.7M126.7 229.5V97.2M131.2 229.5V99.0M133.3 229.5V87.0M136.0 229.5V83.2M138.2 229.5V86.1M140.9 229.5V92.5M143.9 229.5V102.5M146.8 229.5V115.3M150.0 229.5V131.4M153.0 229.5V149.8M156.2 229.5V172.0M159.4 229.5V197.0M163.0 229.5V222.0" fill="none" stroke="#0072BD" stroke-width="1.2" stroke-opacity="0.42"/>
<path d="M113.7 120.0h0M115.3 105.0h0M117.0 92.8h0M119.3 85.0h0M121.0 79.6h0M122.5 78.4h0M124.0 83.7h0M126.7 97.2h0M131.2 99.0h0M133.3 87.0h0M136.0 83.2h0M138.2 86.1h0M140.9 92.5h0M143.9 102.5h0M146.8 115.3h0M150.0 131.4h0M153.0 149.8h0M156.2 172.0h0M159.4 197.0h0M163.0 222.0h0" fill="none" stroke="#0072BD" stroke-width="1.9" stroke-linecap="round"/>
<path d="M114.0 229.5V148.0M115.5 229.5V133.0M117.2 229.5V120.8M119.5 229.5V113.0M121.2 229.5V107.6M122.8 229.5V106.4M124.2 229.5V111.7M127.0 229.5V125.2M131.4 229.5V127.0M133.6 229.5V115.0M136.2 229.5V111.2M138.4 229.5V114.1M141.2 229.5V120.5M144.2 229.5V130.5M147.1 229.5V143.3M150.2 229.5V159.4M153.2 229.5V177.8M156.4 229.5V200.0M159.7 229.5V225.0" fill="none" stroke="#0072BD" stroke-width="1.2" stroke-opacity="0.42"/>
<path d="M114.0 148.0h0M115.5 133.0h0M117.2 120.8h0M119.5 113.0h0M121.2 107.6h0M122.8 106.4h0M124.2 111.7h0M127.0 125.2h0M131.4 127.0h0M133.6 115.0h0M136.2 111.2h0M138.4 114.1h0M141.2 120.5h0M144.2 130.5h0M147.1 143.3h0M150.2 159.4h0M153.2 177.8h0M156.4 200.0h0M159.7 225.0h0" fill="none" stroke="#0072BD" stroke-width="1.9" stroke-linecap="round"/>
<path d="M150.8 229.5V220.0M151.9 229.5V200.0M153.2 229.5V183.0M154.6 229.5V170.0M156.1 229.5V160.5M157.7 229.5V154.5M159.4 229.5V151.5M161.2 229.5V150.3M163.1 229.5V152.0M165.1 229.5V158.0M167.2 229.5V172.0" fill="none" stroke="#D95319" stroke-width="1.2" stroke-opacity="0.36"/>
<path d="M150.8 220.0h0M151.9 200.0h0M153.2 183.0h0M154.6 170.0h0M156.1 160.5h0M157.7 154.5h0M159.4 151.5h0M161.2 150.3h0M163.1 152.0h0M165.1 158.0h0M167.2 172.0h0" fill="none" stroke="#D95319" stroke-width="1.9" stroke-linecap="round"/>
<path d="M151.3 229.5V220.8M152.4 229.5V200.8M153.7 229.5V183.8M155.1 229.5V170.8M156.6 229.5V161.3M158.2 229.5V155.3M159.9 229.5V152.3M161.7 229.5V151.1M163.6 229.5V152.8M165.6 229.5V158.8M167.7 229.5V172.8" fill="none" stroke="#D95319" stroke-width="1.2" stroke-opacity="0.36"/>
<path d="M151.3 220.8h0M152.4 200.8h0M153.7 183.8h0M155.1 170.8h0M156.6 161.3h0M158.2 155.3h0M159.9 152.3h0M161.7 151.1h0M163.6 152.8h0M165.6 158.8h0M167.7 172.8h0" fill="none" stroke="#D95319" stroke-width="1.9" stroke-linecap="round"/>
<path d="M171.8 229.5V172.0M174.0 229.5V158.0M176.3 229.5V154.0M178.7 229.5V154.5M181.2 229.5V158.0M183.8 229.5V165.0" fill="none" stroke="#D95319" stroke-width="1.2" stroke-opacity="0.6"/>
<path d="M171.8 172.0h0M174.0 158.0h0M176.3 154.0h0M178.7 154.5h0M181.2 158.0h0M183.8 165.0h0" fill="none" stroke="#D95319" stroke-width="1.9" stroke-linecap="round"/>
<path d="M172.3 229.5V172.8M174.5 229.5V158.8M176.8 229.5V154.8M179.2 229.5V155.3M181.7 229.5V158.8M184.3 229.5V165.8" fill="none" stroke="#D95319" stroke-width="1.2" stroke-opacity="0.6"/>
<path d="M172.3 172.8h0M174.5 158.8h0M176.8 154.8h0M179.2 155.3h0M181.7 158.8h0M184.3 165.8h0" fill="none" stroke="#D95319" stroke-width="1.9" stroke-linecap="round"/>
<path d="M82.3 229.5L82.3 216.3L82.7 163.2L83.1 140.1L83.5 126.9L83.9 115.5L84.3 109.5L84.7 103.5L85.1 98.1L85.5 94.7L85.9 91.2L86.3 87.8L86.7 89.0L87.1 90.1L87.5 91.5L87.9 93.7L88.3 95.9L88.7 96.1L89.1 94.3L89.5 92.5L89.9 91.4L90.3 90.5L90.7 90.2L91.1 91.4L91.5 92.5L91.9 93.7L92.3 96.0L92.7 98.7L93.1 101.3L93.5 104.0L93.9 109.6L94.3 115.2L94.7 120.8L95.1 145.9L95.1 229.5Z" fill="#EDB120" fill-opacity="1.0" stroke="none"/>
<path d="M82.4 229.5V217.8M82.7 229.5V165.0M83.0 229.5V142.1M83.4 229.5V127.6M83.9 229.5V116.3M84.4 229.5V110.7M84.8 229.5V104.1M85.1 229.5V100.1M85.6 229.5V96.9M85.9 229.5V91.8M86.4 229.5V90.2M86.7 229.5V91.7M87.2 229.5V91.4M87.4 229.5V92.3M87.8 229.5V93.8M88.3 229.5V96.2M88.8 229.5V96.9M89.1 229.5V95.8M89.4 229.5V92.8M89.9 229.5V93.8M90.2 229.5V91.1M90.7 229.5V92.1M91.1 229.5V92.8M91.4 229.5V94.5M91.8 229.5V94.1M92.2 229.5V96.7M92.7 229.5V101.2M93.0 229.5V101.7M93.5 229.5V105.0M93.8 229.5V109.8M94.2 229.5V115.5M94.6 229.5V121.3M95.1 229.5V145.9" fill="none" stroke="#EDB120" stroke-width="0.5" stroke-opacity="1.0"/>
<path d="M82.4 217.8h0M82.7 165.0h0M83.0 142.1h0M83.4 127.6h0M83.9 116.3h0M84.4 110.7h0M84.8 104.1h0M85.1 100.1h0M85.6 96.9h0M85.9 91.8h0M86.4 90.2h0M86.7 91.7h0M87.2 91.4h0M87.4 92.3h0M87.8 93.8h0M88.3 96.2h0M88.8 96.9h0M89.1 95.8h0M89.4 92.8h0M89.9 93.8h0M90.2 91.1h0M90.7 92.1h0M91.1 92.8h0M91.4 94.5h0M91.8 94.1h0M92.2 96.7h0M92.7 101.2h0M93.0 101.7h0M93.5 105.0h0M93.8 109.8h0M94.2 115.5h0M94.6 121.3h0M95.1 145.9h0" fill="none" stroke="#EDB120" stroke-width="1.0" stroke-linecap="round"/>
<path d="M105.6 229.5V220.8M106.4 229.5V198.7M107.2 229.5V184.8M108.0 229.5V172.3M108.8 229.5V175.0M109.6 229.5V160.4M110.4 229.5V167.1M111.2 229.5V156.1M112.0 229.5V151.4M112.8 229.5V162.2M113.6 229.5V150.7M114.4 229.5V155.8M115.2 229.5V176.4M116.0 229.5V163.3M116.8 229.5V162.8M117.6 229.5V189.5M118.4 229.5V201.3M119.2 229.5V176.4M120.0 229.5V175.5M120.8 229.5V186.5M121.6 229.5V181.2M122.4 229.5V212.5M123.2 229.5V199.9M124.0 229.5V207.0M124.8 229.5V223.0M125.6 229.5V222.9M127.2 229.5V226.6" fill="none" stroke="#7E2F8E" stroke-width="1.2" stroke-opacity="0.42"/>
<path d="M105.6 220.8h0M106.4 198.7h0M107.2 184.8h0M108.0 172.3h0M108.8 175.0h0M109.6 160.4h0M110.4 167.1h0M111.2 156.1h0M112.0 151.4h0M112.8 162.2h0M113.6 150.7h0M114.4 155.8h0M115.2 176.4h0M116.0 163.3h0M116.8 162.8h0M117.6 189.5h0M118.4 201.3h0M119.2 176.4h0M120.0 175.5h0M120.8 186.5h0M121.6 181.2h0M122.4 212.5h0M123.2 199.9h0M124.0 207.0h0M124.8 223.0h0M125.6 222.9h0M127.2 226.6h0" fill="none" stroke="#7E2F8E" stroke-width="1.8" stroke-linecap="round"/>
<path d="M84.5 229.5L84.5 204.6L84.9 128.3L85.3 121.7L85.7 115.0L86.1 109.3L86.5 106.7L86.9 104.0L87.3 101.3L87.7 99.3L88.1 97.8L88.5 96.3L88.9 97.1L89.3 97.9L89.7 98.8L90.1 100.0L90.5 101.2L90.9 100.7L91.3 99.7L91.7 98.9L92.1 98.4L92.5 97.9L92.9 98.1L93.3 99.0L93.7 99.9L94.1 100.8L94.5 105.8L94.9 112.1L95.3 118.4L95.7 126.0L96.1 134.0L96.5 199.0L96.5 229.5Z" fill="#77AC30" fill-opacity="1.0" stroke="none"/>
<path d="M84.4 229.5V204.6M84.8 229.5V128.5M85.3 229.5V122.0M85.8 229.5V115.8M86.1 229.5V109.9M86.6 229.5V107.8M86.8 229.5V107.2M87.4 229.5V102.0M87.6 229.5V101.2M88.0 229.5V98.6M88.5 229.5V99.1M89.0 229.5V98.2M89.2 229.5V99.9M89.8 229.5V99.0M90.1 229.5V102.4M90.5 229.5V102.5M90.8 229.5V101.4M91.2 229.5V100.1M91.6 229.5V100.6M92.2 229.5V98.8M92.5 229.5V99.9M93.0 229.5V99.0M93.2 229.5V99.1M93.8 229.5V102.4M94.0 229.5V101.3M94.5 229.5V106.0M95.0 229.5V115.0M95.4 229.5V119.6M95.8 229.5V127.2M96.0 229.5V134.7M96.5 229.5V200.2" fill="none" stroke="#77AC30" stroke-width="0.5" stroke-opacity="1.0"/>
<path d="M84.4 204.6h0M84.8 128.5h0M85.3 122.0h0M85.8 115.8h0M86.1 109.9h0M86.6 107.8h0M86.8 107.2h0M87.4 102.0h0M87.6 101.2h0M88.0 98.6h0M88.5 99.1h0M89.0 98.2h0M89.2 99.9h0M89.8 99.0h0M90.1 102.4h0M90.5 102.5h0M90.8 101.4h0M91.2 100.1h0M91.6 100.6h0M92.2 98.8h0M92.5 99.9h0M93.0 99.0h0M93.2 99.1h0M93.8 102.4h0M94.0 101.3h0M94.5 106.0h0M95.0 115.0h0M95.4 119.6h0M95.8 127.2h0M96.0 134.7h0M96.5 200.2h0" fill="none" stroke="#77AC30" stroke-width="1.0" stroke-linecap="round"/>
<path d="M112.5 229.5L112.5 229.5L113.0 207.2L113.4 184.9L113.9 174.0L114.3 166.4L114.8 158.7L115.2 151.1L115.7 145.2L116.1 142.9L116.6 140.5L117.0 138.2L117.5 135.9L117.9 133.5L118.4 134.2L118.8 135.8L119.3 137.4L119.7 139.0L120.2 140.8L120.6 143.0L121.1 145.3L121.5 147.5L122.0 149.8L122.4 154.4L122.9 159.4L123.3 164.3L123.8 169.3L124.2 175.7L124.7 184.1L125.1 192.5L125.6 203.0L125.6 229.5Z" fill="#4DBEEE" fill-opacity="1.0" stroke="none"/>
<path d="M112.8 229.5V208.0M113.3 229.5V192.5M113.7 229.5V178.3M114.3 229.5V171.4M114.6 229.5V165.8M115.1 229.5V153.1M115.7 229.5V160.8M116.1 229.5V152.0M116.6 229.5V145.6M116.9 229.5V142.0M117.3 229.5V136.7M117.8 229.5V134.9M118.5 229.5V136.8M118.7 229.5V139.8M119.2 229.5V149.4M119.7 229.5V140.9M120.2 229.5V151.9M120.6 229.5V143.9M121.1 229.5V157.4M121.6 229.5V150.2M122.0 229.5V150.7M122.4 229.5V156.0M122.8 229.5V163.1M123.3 229.5V164.6M123.7 229.5V171.6M124.3 229.5V182.6M124.6 229.5V187.4M125.0 229.5V197.4M125.5 229.5V209.5" fill="none" stroke="#4DBEEE" stroke-width="0.5" stroke-opacity="1.0"/>
<path d="M112.8 208.0h0M113.3 192.5h0M113.7 178.3h0M114.3 171.4h0M114.6 165.8h0M115.1 153.1h0M115.7 160.8h0M116.1 152.0h0M116.6 145.6h0M116.9 142.0h0M117.3 136.7h0M117.8 134.9h0M118.5 136.8h0M118.7 139.8h0M119.2 149.4h0M119.7 140.9h0M120.2 151.9h0M120.6 143.9h0M121.1 157.4h0M121.6 150.2h0M122.0 150.7h0M122.4 156.0h0M122.8 163.1h0M123.3 164.6h0M123.7 171.6h0M124.3 182.6h0M124.6 187.4h0M125.0 197.4h0M125.5 209.5h0" fill="none" stroke="#4DBEEE" stroke-width="1.0" stroke-linecap="round"/>
<path d="M110.5 229.5V185.8M111.4 229.5V162.7M112.3 229.5V154.4M113.2 229.5V140.8M114.1 229.5V134.1M115.0 229.5V133.7M115.9 229.5V138.2M116.8 229.5V126.5M117.7 229.5V141.5M118.6 229.5V142.8M119.5 229.5V141.7M120.4 229.5V141.7M121.3 229.5V139.8M122.2 229.5V134.3M123.1 229.5V160.6M124.0 229.5V153.3M124.9 229.5V167.1M125.8 229.5V167.3" fill="none" stroke="#4DBEEE" stroke-width="0.8" stroke-opacity="0.75"/>
<path d="M110.5 185.8h0M111.4 162.7h0M112.3 154.4h0M113.2 140.8h0M114.1 134.1h0M115.0 133.7h0M115.9 138.2h0M116.8 126.5h0M117.7 141.5h0M118.6 142.8h0M119.5 141.7h0M120.4 141.7h0M121.3 139.8h0M122.2 134.3h0M123.1 160.6h0M124.0 153.3h0M124.9 167.1h0M125.8 167.3h0" fill="none" stroke="#4DBEEE" stroke-width="1.3" stroke-linecap="round"/>
<path d="M108.0 229.5V152.1M109.6 229.5V151.4M111.2 229.5V155.9M112.8 229.5V120.5M114.4 229.5V132.5M116.0 229.5V159.5M117.6 229.5V139.3M119.2 229.5V151.4M120.8 229.5V158.0M122.4 229.5V179.5M124.0 229.5V199.8" fill="none" stroke="#7E2F8E" stroke-width="0.9" stroke-opacity="0.45"/>
<path d="M108.0 152.1h0M109.6 151.4h0M111.2 155.9h0M112.8 120.5h0M114.4 132.5h0M116.0 159.5h0M117.6 139.3h0M119.2 151.4h0M120.8 158.0h0M122.4 179.5h0M124.0 199.8h0" fill="none" stroke="#7E2F8E" stroke-width="1.4" stroke-linecap="round"/>
<path d="M184.0 229.5L184.0 229.5L184.4 181.9L184.8 168.0L185.2 165.3L185.6 162.7L186.0 160.0L186.4 155.7L186.8 151.5L187.2 147.2L187.6 142.9L188.0 138.7L188.4 134.4L188.8 130.1L189.2 127.0L189.6 125.0L190.0 123.0L190.4 121.0L190.8 119.0L191.2 117.0L191.6 115.0L192.0 113.0L192.4 111.0L192.8 109.0L193.2 107.4L193.6 106.1L194.0 104.8L194.4 103.5L194.8 102.2L195.2 100.9L195.6 99.6L196.0 99.7L196.4 101.0L196.8 102.3L197.2 104.3L197.6 106.9L198.0 109.5L198.4 112.1L198.8 114.7L199.2 117.4L199.6 120.2L200.0 123.0L200.4 125.8L200.8 128.6L201.2 131.6L201.6 134.8L202.0 138.0L202.4 141.2L202.8 144.4L203.2 147.4L203.6 150.2L204.0 153.0L204.4 155.8L204.8 158.6L205.2 160.8L205.6 162.4L206.0 164.0L206.4 165.6L206.8 158.8L207.2 149.2L207.6 140.8L208.0 136.0L208.4 131.2L208.8 126.4L209.2 123.6L209.6 122.8L210.0 122.0L210.4 121.2L210.8 120.4L211.2 119.6L211.6 118.8L212.0 118.0L212.4 118.1L212.8 118.3L213.2 118.4L213.6 118.5L214.0 118.7L214.4 118.8L214.8 118.9L215.2 119.3L215.6 119.9L216.0 120.5L216.4 121.1L216.8 121.7L217.2 122.9L217.6 124.7L218.0 126.5L218.4 128.3L218.8 130.1L219.2 132.7L219.6 136.0L220.0 139.4L220.4 142.8L220.8 146.1L221.2 149.5L221.6 153.0L222.0 156.8L222.4 160.7L222.8 164.6L223.2 168.5L223.6 172.3L224.0 176.2L224.4 180.1L224.8 183.4L225.2 186.2L225.6 189.1L226.0 191.9L226.4 194.7L226.8 197.5L227.2 200.4L227.6 203.2L228.0 206.0L228.4 209.1L228.8 212.3L229.2 215.4L229.6 218.5L230.0 221.7L230.4 224.8L230.4 229.5Z" fill="#A2142F" fill-opacity="1.0" stroke="none"/>
<path d="M184.4 229.5V182.0M184.8 229.5V172.8M185.1 229.5V165.8M185.5 229.5V172.6M185.9 229.5V161.9M186.3 229.5V161.6M186.9 229.5V152.2M187.3 229.5V156.5M187.5 229.5V147.1M187.9 229.5V142.7M188.4 229.5V141.5M188.8 229.5V131.8M189.2 229.5V130.0M189.7 229.5V128.9M189.9 229.5V124.8M190.5 229.5V125.7M190.8 229.5V122.2M191.2 229.5V117.2M191.5 229.5V116.0M192.1 229.5V114.7M192.5 229.5V127.3M192.9 229.5V112.6M193.1 229.5V111.1M193.6 229.5V106.9M194.0 229.5V105.8M194.3 229.5V105.2M194.9 229.5V103.9M195.2 229.5V105.1M195.6 229.5V99.8M196.0 229.5V101.5M196.5 229.5V107.0M196.7 229.5V114.1M197.3 229.5V111.0M197.6 229.5V114.5M197.9 229.5V113.2M198.3 229.5V118.7M198.9 229.5V123.3M199.3 229.5V118.3M199.7 229.5V128.9M200.1 229.5V124.8M200.4 229.5V130.8M200.7 229.5V132.3M201.3 229.5V135.3M201.6 229.5V143.1M202.0 229.5V142.7M202.5 229.5V144.2M202.7 229.5V158.9M203.1 229.5V151.9M203.7 229.5V156.3M204.1 229.5V153.9M204.3 229.5V163.3M204.8 229.5V162.1M205.1 229.5V167.4M205.7 229.5V164.5M206.1 229.5V166.4M206.4 229.5V167.1M206.9 229.5V171.5M207.2 229.5V150.4M207.5 229.5V145.4M208.0 229.5V148.7M208.3 229.5V133.7M208.9 229.5V131.0M209.2 229.5V128.5M209.5 229.5V124.6M210.1 229.5V125.1M210.3 229.5V124.5M210.7 229.5V120.9M211.2 229.5V123.6M211.6 229.5V119.3M212.1 229.5V129.4M212.5 229.5V123.0M212.7 229.5V118.4M213.1 229.5V119.2M213.6 229.5V125.4M214.1 229.5V122.9M214.3 229.5V120.1M214.9 229.5V122.0M215.3 229.5V121.4M215.5 229.5V121.9M216.1 229.5V123.2M216.5 229.5V122.8M216.9 229.5V125.2M217.2 229.5V137.5M217.6 229.5V129.3M218.1 229.5V131.2M218.3 229.5V132.0M218.7 229.5V132.4M219.2 229.5V135.1M219.5 229.5V138.1M220.1 229.5V140.6M220.3 229.5V159.5M220.8 229.5V146.4M221.3 229.5V156.1M221.5 229.5V155.1M222.1 229.5V162.3M222.5 229.5V161.4M222.8 229.5V170.7M223.2 229.5V171.3M223.5 229.5V183.4M224.0 229.5V178.6M224.3 229.5V190.7M224.9 229.5V188.2M225.1 229.5V188.2M225.5 229.5V192.1M226.0 229.5V207.6M226.5 229.5V200.1M226.9 229.5V198.3M227.3 229.5V201.0M227.6 229.5V212.3M228.1 229.5V206.5M228.4 229.5V215.4M228.7 229.5V216.4M229.2 229.5V219.7M229.6 229.5V221.7M230.0 229.5V224.0" fill="none" stroke="#A2142F" stroke-width="0.5" stroke-opacity="1.0"/>
<path d="M184.4 182.0h0M184.8 172.8h0M185.1 165.8h0M185.5 172.6h0M185.9 161.9h0M186.3 161.6h0M186.9 152.2h0M187.3 156.5h0M187.5 147.1h0M187.9 142.7h0M188.4 141.5h0M188.8 131.8h0M189.2 130.0h0M189.7 128.9h0M189.9 124.8h0M190.5 125.7h0M190.8 122.2h0M191.2 117.2h0M191.5 116.0h0M192.1 114.7h0M192.5 127.3h0M192.9 112.6h0M193.1 111.1h0M193.6 106.9h0M194.0 105.8h0M194.3 105.2h0M194.9 103.9h0M195.2 105.1h0M195.6 99.8h0M196.0 101.5h0M196.5 107.0h0M196.7 114.1h0M197.3 111.0h0M197.6 114.5h0M197.9 113.2h0M198.3 118.7h0M198.9 123.3h0M199.3 118.3h0M199.7 128.9h0M200.1 124.8h0M200.4 130.8h0M200.7 132.3h0M201.3 135.3h0M201.6 143.1h0M202.0 142.7h0M202.5 144.2h0M202.7 158.9h0M203.1 151.9h0M203.7 156.3h0M204.1 153.9h0M204.3 163.3h0M204.8 162.1h0M205.1 167.4h0M205.7 164.5h0M206.1 166.4h0M206.4 167.1h0M206.9 171.5h0M207.2 150.4h0M207.5 145.4h0M208.0 148.7h0M208.3 133.7h0M208.9 131.0h0M209.2 128.5h0M209.5 124.6h0M210.1 125.1h0M210.3 124.5h0M210.7 120.9h0M211.2 123.6h0M211.6 119.3h0M212.1 129.4h0M212.5 123.0h0M212.7 118.4h0M213.1 119.2h0M213.6 125.4h0M214.1 122.9h0M214.3 120.1h0M214.9 122.0h0M215.3 121.4h0M215.5 121.9h0M216.1 123.2h0M216.5 122.8h0M216.9 125.2h0M217.2 137.5h0M217.6 129.3h0M218.1 131.2h0M218.3 132.0h0M218.7 132.4h0M219.2 135.1h0M219.5 138.1h0M220.1 140.6h0M220.3 159.5h0M220.8 146.4h0M221.3 156.1h0M221.5 155.1h0M222.1 162.3h0M222.5 161.4h0M222.8 170.7h0M223.2 171.3h0M223.5 183.4h0M224.0 178.6h0M224.3 190.7h0M224.9 188.2h0M225.1 188.2h0M225.5 192.1h0M226.0 207.6h0M226.5 200.1h0M226.9 198.3h0M227.3 201.0h0M227.6 212.3h0M228.1 206.5h0M228.4 215.4h0M228.7 216.4h0M229.2 219.7h0M229.6 221.7h0M230.0 224.0h0" fill="none" stroke="#A2142F" stroke-width="1.0" stroke-linecap="round"/>
<path d="M184.0 229.5V184.5M184.6 229.5V169.4M185.2 229.5V160.6M185.8 229.5V157.6M186.4 229.5V152.7M187.0 229.5V141.0M187.6 229.5V143.2M188.2 229.5V138.6M188.8 229.5V127.7M189.4 229.5V130.6M190.0 229.5V122.5M190.6 229.5V121.0M191.2 229.5V122.1M191.8 229.5V111.6M192.4 229.5V117.8M193.0 229.5V105.5M193.6 229.5V121.0M194.2 229.5V119.3M194.8 229.5V108.4M195.4 229.5V98.9M196.0 229.5V98.9M196.6 229.5V99.8M197.2 229.5V114.1M197.8 229.5V107.5M198.4 229.5V102.9M199.0 229.5V109.1M199.6 229.5V115.0M200.2 229.5V120.6M200.8 229.5V126.9M201.4 229.5V124.2M202.0 229.5V130.5M202.6 229.5V142.7M203.2 229.5V142.3M203.8 229.5V145.2M204.4 229.5V146.5M205.0 229.5V143.0M205.6 229.5V132.9M206.2 229.5V128.9M206.8 229.5V126.5M207.4 229.5V112.0M208.0 229.5V115.1M208.6 229.5V114.9M209.2 229.5V113.5M209.8 229.5V113.1M210.4 229.5V108.0M211.0 229.5V108.8M211.6 229.5V111.9M212.2 229.5V112.3M212.8 229.5V106.4M213.4 229.5V107.6M214.0 229.5V108.7M214.6 229.5V112.9M215.2 229.5V118.0M215.8 229.5V109.8M216.4 229.5V119.4M217.0 229.5V117.3M217.6 229.5V115.7M218.2 229.5V133.6M218.8 229.5V129.6M219.4 229.5V139.6M220.0 229.5V139.4M220.6 229.5V135.6M221.2 229.5V148.1M221.8 229.5V151.4M222.4 229.5V150.0M223.0 229.5V153.7M223.6 229.5V156.4M224.2 229.5V159.4M224.8 229.5V164.8M225.4 229.5V178.5M226.0 229.5V170.4M226.6 229.5V173.9M227.2 229.5V184.4M227.8 229.5V182.0M228.4 229.5V201.3M229.0 229.5V188.5M229.6 229.5V194.1M230.2 229.5V201.2M230.8 229.5V206.4M231.4 229.5V208.5M232.0 229.5V216.5M232.6 229.5V211.9M233.2 229.5V213.6M233.8 229.5V218.2M235.0 229.5V227.8M235.6 229.5V216.6M236.2 229.5V220.4M237.4 229.5V225.7M238.0 229.5V225.3" fill="none" stroke="#A2142F" stroke-width="0.9" stroke-opacity="0.7"/>
<path d="M184.0 184.5h0M184.6 169.4h0M185.2 160.6h0M185.8 157.6h0M186.4 152.7h0M187.0 141.0h0M187.6 143.2h0M188.2 138.6h0M188.8 127.7h0M189.4 130.6h0M190.0 122.5h0M190.6 121.0h0M191.2 122.1h0M191.8 111.6h0M192.4 117.8h0M193.0 105.5h0M193.6 121.0h0M194.2 119.3h0M194.8 108.4h0M195.4 98.9h0M196.0 98.9h0M196.6 99.8h0M197.2 114.1h0M197.8 107.5h0M198.4 102.9h0M199.0 109.1h0M199.6 115.0h0M200.2 120.6h0M200.8 126.9h0M201.4 124.2h0M202.0 130.5h0M202.6 142.7h0M203.2 142.3h0M203.8 145.2h0M204.4 146.5h0M205.0 143.0h0M205.6 132.9h0M206.2 128.9h0M206.8 126.5h0M207.4 112.0h0M208.0 115.1h0M208.6 114.9h0M209.2 113.5h0M209.8 113.1h0M210.4 108.0h0M211.0 108.8h0M211.6 111.9h0M212.2 112.3h0M212.8 106.4h0M213.4 107.6h0M214.0 108.7h0M214.6 112.9h0M215.2 118.0h0M215.8 109.8h0M216.4 119.4h0M217.0 117.3h0M217.6 115.7h0M218.2 133.6h0M218.8 129.6h0M219.4 139.6h0M220.0 139.4h0M220.6 135.6h0M221.2 148.1h0M221.8 151.4h0M222.4 150.0h0M223.0 153.7h0M223.6 156.4h0M224.2 159.4h0M224.8 164.8h0M225.4 178.5h0M226.0 170.4h0M226.6 173.9h0M227.2 184.4h0M227.8 182.0h0M228.4 201.3h0M229.0 188.5h0M229.6 194.1h0M230.2 201.2h0M230.8 206.4h0M231.4 208.5h0M232.0 216.5h0M232.6 211.9h0M233.2 213.6h0M233.8 218.2h0M235.0 227.8h0M235.6 216.6h0M236.2 220.4h0M237.4 225.7h0M238.0 225.3h0" fill="none" stroke="#A2142F" stroke-width="1.5" stroke-linecap="round"/>
<path d="M246.0 229.5V224.0M250.5 229.5V219.0M253.0 229.5V226.0M256.0 229.5V221.0M259.0 229.5V225.0M261.5 229.5V222.0" fill="none" stroke="#A2142F" stroke-width="0.5" stroke-opacity="0.5"/>
<path d="M246.0 224.0h0M250.5 219.0h0M253.0 226.0h0M256.0 221.0h0M259.0 225.0h0M261.5 222.0h0" fill="none" stroke="#A2142F" stroke-width="1.3" stroke-linecap="round"/>
<path d="M96.7 229.5L96.7 226.2L97.1 219.6L97.5 212.9L97.9 206.3L98.3 199.7L98.7 196.5L99.1 194.5L99.5 192.5L99.9 190.5L100.3 189.1L100.7 188.0L101.1 186.8L101.5 185.7L101.9 184.5L102.3 183.3L102.7 182.2L103.1 181.0L103.5 179.9L103.9 178.9L104.3 178.4L104.7 178.0L105.1 177.5L105.5 177.0L105.9 176.6L106.3 176.1L106.7 175.7L107.1 175.2L107.5 174.7L107.9 174.3L108.3 173.8L108.7 173.3L109.1 172.9L109.5 172.7L109.9 172.5L110.3 172.3L110.7 172.1L111.1 171.9L111.5 171.7L111.9 171.5L112.3 171.3L112.7 171.1L113.1 171.1L113.5 171.4L113.9 171.7L114.3 172.0L114.7 172.3L115.1 172.6L115.5 172.9L115.9 173.2L116.3 173.5L116.7 173.8L117.1 174.2L117.5 174.8L117.9 175.5L118.3 176.2L118.7 176.8L119.1 177.5L119.5 178.2L119.9 178.8L120.3 180.3L120.7 182.1L121.1 183.8L121.5 185.6L121.9 187.4L122.3 189.1L122.7 192.4L123.1 197.2L123.5 202.0L123.9 206.8L124.3 214.5L124.7 223.1L124.7 229.5Z" fill="#0072BD" fill-opacity="1.0" stroke="none"/>
<path d="M96.6 229.5V226.3M97.2 229.5V224.7M97.6 229.5V213.6M97.9 229.5V208.8M98.4 229.5V204.2M98.6 229.5V198.0M99.1 229.5V199.3M99.5 229.5V204.0M99.9 229.5V192.4M100.3 229.5V192.3M100.8 229.5V189.8M101.2 229.5V190.8M101.5 229.5V186.7M101.8 229.5V187.8M102.4 229.5V183.9M102.7 229.5V186.3M103.1 229.5V185.6M103.6 229.5V181.2M104.0 229.5V189.8M104.3 229.5V178.9M104.6 229.5V179.6M105.0 229.5V181.0M105.6 229.5V186.5M106.0 229.5V178.9M106.3 229.5V177.1M106.6 229.5V176.4M107.1 229.5V178.3M107.6 229.5V182.0M107.8 229.5V180.8M108.2 229.5V177.8M108.6 229.5V176.2M109.1 229.5V173.6M109.4 229.5V180.4M109.9 229.5V173.5M110.2 229.5V177.7M110.8 229.5V173.2M111.1 229.5V175.3M111.5 229.5V175.5M111.9 229.5V179.0M112.3 229.5V177.1M112.6 229.5V175.2M113.1 229.5V173.3M113.5 229.5V181.0M114.0 229.5V172.9M114.2 229.5V182.6M114.7 229.5V178.3M115.2 229.5V185.9M115.6 229.5V176.0M115.9 229.5V173.5M116.2 229.5V174.2M116.7 229.5V180.4M117.1 229.5V177.5M117.6 229.5V179.4M117.9 229.5V181.0M118.4 229.5V178.1M118.8 229.5V177.5M119.1 229.5V179.6M119.6 229.5V181.6M119.9 229.5V188.8M120.4 229.5V189.8M120.6 229.5V182.8M121.2 229.5V191.4M121.5 229.5V186.1M121.8 229.5V193.8M122.4 229.5V190.0M122.6 229.5V197.0M123.1 229.5V199.1M123.4 229.5V205.4M123.9 229.5V214.1M124.3 229.5V216.1M124.6 229.5V227.9" fill="none" stroke="#0072BD" stroke-width="0.5" stroke-opacity="1.0"/>
<path d="M96.6 226.3h0M97.2 224.7h0M97.6 213.6h0M97.9 208.8h0M98.4 204.2h0M98.6 198.0h0M99.1 199.3h0M99.5 204.0h0M99.9 192.4h0M100.3 192.3h0M100.8 189.8h0M101.2 190.8h0M101.5 186.7h0M101.8 187.8h0M102.4 183.9h0M102.7 186.3h0M103.1 185.6h0M103.6 181.2h0M104.0 189.8h0M104.3 178.9h0M104.6 179.6h0M105.0 181.0h0M105.6 186.5h0M106.0 178.9h0M106.3 177.1h0M106.6 176.4h0M107.1 178.3h0M107.6 182.0h0M107.8 180.8h0M108.2 177.8h0M108.6 176.2h0M109.1 173.6h0M109.4 180.4h0M109.9 173.5h0M110.2 177.7h0M110.8 173.2h0M111.1 175.3h0M111.5 175.5h0M111.9 179.0h0M112.3 177.1h0M112.6 175.2h0M113.1 173.3h0M113.5 181.0h0M114.0 172.9h0M114.2 182.6h0M114.7 178.3h0M115.2 185.9h0M115.6 176.0h0M115.9 173.5h0M116.2 174.2h0M116.7 180.4h0M117.1 177.5h0M117.6 179.4h0M117.9 181.0h0M118.4 178.1h0M118.8 177.5h0M119.1 179.6h0M119.6 181.6h0M119.9 188.8h0M120.4 189.8h0M120.6 182.8h0M121.2 191.4h0M121.5 186.1h0M121.8 193.8h0M122.4 190.0h0M122.6 197.0h0M123.1 199.1h0M123.4 205.4h0M123.9 214.1h0M124.3 216.1h0M124.6 227.9h0" fill="none" stroke="#0072BD" stroke-width="1.0" stroke-linecap="round"/>
<path d="M98.0 229.5V205.8M99.3 229.5V192.4M100.6 229.5V185.6M101.9 229.5V186.8M103.2 229.5V171.3M104.5 229.5V168.1M105.8 229.5V183.7M107.1 229.5V164.5M108.4 229.5V164.9M109.7 229.5V163.2M111.0 229.5V154.8M112.3 229.5V152.5M113.6 229.5V152.8M114.9 229.5V161.0M116.2 229.5V158.2M117.5 229.5V156.4M118.8 229.5V169.8M120.1 229.5V169.2M121.4 229.5V179.1M122.7 229.5V186.9M124.0 229.5V206.2" fill="none" stroke="#0072BD" stroke-width="0.8" stroke-opacity="0.55"/>
<path d="M98.0 205.8h0M99.3 192.4h0M100.6 185.6h0M101.9 186.8h0M103.2 171.3h0M104.5 168.1h0M105.8 183.7h0M107.1 164.5h0M108.4 164.9h0M109.7 163.2h0M111.0 154.8h0M112.3 152.5h0M113.6 152.8h0M114.9 161.0h0M116.2 158.2h0M117.5 156.4h0M118.8 169.8h0M120.1 169.2h0M121.4 179.1h0M122.7 186.9h0M124.0 206.2h0" fill="none" stroke="#0072BD" stroke-width="1.2" stroke-linecap="round"/>
<path d="M231.0 497.5L231.0 425.5L231.3 420.2L231.7 415.1L232.0 410.1L232.4 405.2L232.7 400.5L233.1 395.9L233.4 391.5L233.8 387.2L234.1 383.0L234.5 379.0L234.8 375.2L235.2 371.5L235.5 368.0L235.9 364.6L236.2 361.3L236.6 358.2L236.9 355.3L237.3 352.5L237.6 349.9L238.0 347.5L238.3 345.2L238.7 343.1L239.0 341.1L239.4 339.4L239.7 337.8L240.1 336.4L240.4 335.2L240.8 334.2L241.1 333.4L241.5 332.8L241.8 332.4L242.2 332.3L242.5 332.4L242.9 332.8L243.2 333.5L243.6 334.5L243.9 335.9L244.3 337.6L244.6 339.8L245.0 342.5L245.3 345.9L245.7 350.0L246.0 355.2L246.4 361.8L246.7 370.6L247.1 381.0L247.4 381.0L247.8 381.0L248.1 381.0L248.5 381.0L248.8 374.4L249.2 365.5L249.5 358.9L249.9 353.7L250.2 349.5L250.6 346.1L250.9 343.3L251.3 341.0L251.6 339.2L252.0 337.7L252.3 336.6L252.7 335.8L253.0 335.3L253.4 335.0L253.7 335.0L254.1 335.2L254.4 335.7L254.8 336.3L255.1 337.1L255.5 338.1L255.8 339.3L256.2 340.7L256.5 342.3L256.9 344.0L257.2 345.9L257.6 347.9L257.9 350.2L258.3 352.5L258.6 355.0L259.0 357.7L259.3 360.5L259.7 363.5L260.0 366.6L260.4 369.8L260.7 373.2L261.1 376.7L261.4 380.4L261.8 384.2L262.1 388.2L262.5 392.2L262.9 396.5L263.2 400.8L263.6 405.3L263.6 497.5Z" fill="#0072BD" fill-opacity="1.0" stroke="none"/>
<path d="M231.0 497.5V425.5M231.4 497.5V420.2M231.6 497.5V415.1M232.0 497.5V410.1M232.5 497.5V405.2M232.8 497.5V400.5M233.2 497.5V395.9M233.6 497.5V391.5M233.7 497.5V387.2M234.2 497.5V383.0M234.6 497.5V379.0M234.8 497.5V375.2M235.2 497.5V371.5M235.7 497.5V368.0M235.8 497.5V364.6M236.3 497.5V361.3M236.5 497.5V358.2M237.0 497.5V355.3M237.2 497.5V352.5M237.7 497.5V349.9M238.0 497.5V347.5M238.5 497.5V345.2M238.8 497.5V343.1M239.1 497.5V341.1M239.5 497.5V339.4M239.7 497.5V337.8M240.2 497.5V336.4M240.4 497.5V335.2M240.8 497.5V334.2M241.2 497.5V333.4M241.5 497.5V332.8M241.7 497.5V332.4M242.1 497.5V332.3M242.6 497.5V332.4M242.8 497.5V332.8M243.3 497.5V333.5M243.6 497.5V334.5M244.1 497.5V335.9M244.4 497.5V337.6M244.7 497.5V339.8M245.0 497.5V342.5M245.2 497.5V345.9M245.7 497.5V350.0M246.1 497.5V355.2M246.5 497.5V361.8M246.7 497.5V370.6M247.0 497.5V381.0M247.6 497.5V381.0M247.9 497.5V381.0M248.1 497.5V381.0M248.6 497.5V381.0M248.7 497.5V374.4M249.2 497.5V365.5M249.6 497.5V358.9M249.9 497.5V353.7M250.1 497.5V349.5M250.5 497.5V346.1M251.0 497.5V343.3M251.4 497.5V341.0M251.5 497.5V339.2M251.9 497.5V337.7M252.2 497.5V336.6M252.8 497.5V335.8M253.0 497.5V335.3M253.4 497.5V335.0M253.9 497.5V335.0M254.1 497.5V335.2M254.4 497.5V335.7M254.9 497.5V336.3M255.0 497.5V337.1M255.4 497.5V338.1M255.9 497.5V339.3M256.1 497.5V340.7M256.4 497.5V342.3M256.9 497.5V344.0M257.2 497.5V345.9M257.7 497.5V347.9M257.8 497.5V350.2M258.4 497.5V352.5M258.6 497.5V355.0M259.1 497.5V357.7M259.3 497.5V360.5M259.8 497.5V363.5M260.0 497.5V366.6M260.3 497.5V369.8M260.7 497.5V373.2M261.2 497.5V376.7M261.4 497.5V380.4M261.7 497.5V384.2M262.1 497.5V388.2M262.4 497.5V392.2M262.8 497.5V396.5M263.2 497.5V400.8M263.6 497.5V405.3" fill="none" stroke="#0072BD" stroke-width="0.5" stroke-opacity="1.0"/>
<path d="M231.0 425.5h0M231.4 420.2h0M231.6 415.1h0M232.0 410.1h0M232.5 405.2h0M232.8 400.5h0M233.2 395.9h0M233.6 391.5h0M233.7 387.2h0M234.2 383.0h0M234.6 379.0h0M234.8 375.2h0M235.2 371.5h0M235.7 368.0h0M235.8 364.6h0M236.3 361.3h0M236.5 358.2h0M237.0 355.3h0M237.2 352.5h0M237.7 349.9h0M238.0 347.5h0M238.5 345.2h0M238.8 343.1h0M239.1 341.1h0M239.5 339.4h0M239.7 337.8h0M240.2 336.4h0M240.4 335.2h0M240.8 334.2h0M241.2 333.4h0M241.5 332.8h0M241.7 332.4h0M242.1 332.3h0M242.6 332.4h0M242.8 332.8h0M243.3 333.5h0M243.6 334.5h0M244.1 335.9h0M244.4 337.6h0M244.7 339.8h0M245.0 342.5h0M245.2 345.9h0M245.7 350.0h0M246.1 355.2h0M246.5 361.8h0M246.7 370.6h0M247.0 381.0h0M247.6 381.0h0M247.9 381.0h0M248.1 381.0h0M248.6 381.0h0M248.7 374.4h0M249.2 365.5h0M249.6 358.9h0M249.9 353.7h0M250.1 349.5h0M250.5 346.1h0M251.0 343.3h0M251.4 341.0h0M251.5 339.2h0M251.9 337.7h0M252.2 336.6h0M252.8 335.8h0M253.0 335.3h0M253.4 335.0h0M253.9 335.0h0M254.1 335.2h0M254.4 335.7h0M254.9 336.3h0M255.0 337.1h0M255.4 338.1h0M255.9 339.3h0M256.1 340.7h0M256.4 342.3h0M256.9 344.0h0M257.2 345.9h0M257.7 347.9h0M257.8 350.2h0M258.4 352.5h0M258.6 355.0h0M259.1 357.7h0M259.3 360.5h0M259.8 363.5h0M260.0 366.6h0M260.3 369.8h0M260.7 373.2h0M261.2 376.7h0M261.4 380.4h0M261.7 384.2h0M262.1 388.2h0M262.4 392.2h0M262.8 396.5h0M263.2 400.8h0M263.6 405.3h0" fill="none" stroke="#0072BD" stroke-width="1.0" stroke-linecap="round"/>
<path d="M206.0 497.5V442.6M207.3 497.5V444.6M208.6 497.5V431.0M209.9 497.5V416.9M211.2 497.5V404.5M212.5 497.5V403.8M213.8 497.5V401.3M215.1 497.5V398.1M216.4 497.5V383.6M217.7 497.5V373.1M219.0 497.5V395.8M220.3 497.5V380.5M221.6 497.5V388.6M222.9 497.5V378.0M224.2 497.5V355.8M225.5 497.5V353.9M226.8 497.5V357.5M228.1 497.5V357.2M229.4 497.5V375.9M230.7 497.5V393.8M232.0 497.5V385.9M233.3 497.5V388.4M234.6 497.5V384.4M235.9 497.5V382.6M237.2 497.5V376.3M238.5 497.5V385.4M239.8 497.5V372.0M241.1 497.5V428.1M242.4 497.5V434.7M243.7 497.5V390.6M245.0 497.5V388.3M246.3 497.5V383.0M247.6 497.5V366.2M248.9 497.5V382.8M250.2 497.5V372.4M251.5 497.5V387.1M252.8 497.5V364.9M254.1 497.5V399.2M255.4 497.5V367.8M256.7 497.5V402.0M258.0 497.5V407.8M259.3 497.5V408.0M260.6 497.5V390.6M261.9 497.5V393.9" fill="none" stroke="#D95319" stroke-width="1.0" stroke-opacity="0.55"/>
<path d="M206.0 442.6h0M207.3 444.6h0M208.6 431.0h0M209.9 416.9h0M211.2 404.5h0M212.5 403.8h0M213.8 401.3h0M215.1 398.1h0M216.4 383.6h0M217.7 373.1h0M219.0 395.8h0M220.3 380.5h0M221.6 388.6h0M222.9 378.0h0M224.2 355.8h0M225.5 353.9h0M226.8 357.5h0M228.1 357.2h0M229.4 375.9h0M230.7 393.8h0M232.0 385.9h0M233.3 388.4h0M234.6 384.4h0M235.9 382.6h0M237.2 376.3h0M238.5 385.4h0M239.8 372.0h0M241.1 428.1h0M242.4 434.7h0M243.7 390.6h0M245.0 388.3h0M246.3 383.0h0M247.6 366.2h0M248.9 382.8h0M250.2 372.4h0M251.5 387.1h0M252.8 364.9h0M254.1 399.2h0M255.4 367.8h0M256.7 402.0h0M258.0 407.8h0M259.3 408.0h0M260.6 390.6h0M261.9 393.9h0" fill="none" stroke="#D95319" stroke-width="1.5" stroke-linecap="round"/>
<path d="M57.5 497.5V410.1M58.2 497.5V405.5M58.9 497.5V401.7M59.7 497.5V399.0M60.4 497.5V397.2M61.1 497.5V396.6M61.8 497.5V397.3M62.5 497.5V399.5M63.3 497.5V403.6M64.0 497.5V410.3M64.7 497.5V421.2M65.4 497.5V441.2M66.9 497.5V450.8M67.6 497.5V428.0M68.3 497.5V416.1M69.0 497.5V408.9M69.7 497.5V404.6M70.5 497.5V402.2M71.2 497.5V401.5M71.9 497.5V402.1M72.6 497.5V403.9M73.3 497.5V406.7M74.1 497.5V410.6M74.8 497.5V415.4M75.5 497.5V421.1M76.2 497.5V427.6M76.9 497.5V435.0M77.7 497.5V443.2M78.4 497.5V452.1M79.1 497.5V461.9M79.8 497.5V472.4M80.5 497.5V483.7" fill="none" stroke="#7E2F8E" stroke-width="0.9" stroke-opacity="0.52"/>
<path d="M57.5 410.1h0M58.2 405.5h0M58.9 401.7h0M59.7 399.0h0M60.4 397.2h0M61.1 396.6h0M61.8 397.3h0M62.5 399.5h0M63.3 403.6h0M64.0 410.3h0M64.7 421.2h0M65.4 441.2h0M66.9 450.8h0M67.6 428.0h0M68.3 416.1h0M69.0 408.9h0M69.7 404.6h0M70.5 402.2h0M71.2 401.5h0M71.9 402.1h0M72.6 403.9h0M73.3 406.7h0M74.1 410.6h0M74.8 415.4h0M75.5 421.1h0M76.2 427.6h0M76.9 435.0h0M77.7 443.2h0M78.4 452.1h0M79.1 461.9h0M79.8 472.4h0M80.5 483.7h0" fill="none" stroke="#7E2F8E" stroke-width="1.3" stroke-linecap="round"/>
<path d="M58.4 497.5V421.8M59.1 497.5V417.9M59.8 497.5V414.9M60.5 497.5V412.9M61.2 497.5V412.0M62.0 497.5V412.4M62.7 497.5V414.2M63.4 497.5V417.9M64.1 497.5V423.9M64.8 497.5V433.7M65.6 497.5V450.8M66.3 497.5V496.9M67.0 497.5V474.1M67.7 497.5V446.2M68.4 497.5V432.8M69.2 497.5V424.8M69.9 497.5V419.9M70.6 497.5V417.1M71.3 497.5V416.0M72.0 497.5V416.4M72.8 497.5V417.9M73.5 497.5V420.5M74.2 497.5V424.2M74.9 497.5V428.7M75.6 497.5V434.2M76.4 497.5V440.6M77.1 497.5V447.8M77.8 497.5V455.8M78.5 497.5V464.6M79.2 497.5V474.2M80.0 497.5V484.5" fill="none" stroke="#7E2F8E" stroke-width="0.8" stroke-opacity="0.45"/>
<path d="M58.4 421.8h0M59.1 417.9h0M59.8 414.9h0M60.5 412.9h0M61.2 412.0h0M62.0 412.4h0M62.7 414.2h0M63.4 417.9h0M64.1 423.9h0M64.8 433.7h0M65.6 450.8h0M66.3 496.9h0M67.0 474.1h0M67.7 446.2h0M68.4 432.8h0M69.2 424.8h0M69.9 419.9h0M70.6 417.1h0M71.3 416.0h0M72.0 416.4h0M72.8 417.9h0M73.5 420.5h0M74.2 424.2h0M74.9 428.7h0M75.6 434.2h0M76.4 440.6h0M77.1 447.8h0M77.8 455.8h0M78.5 464.6h0M79.2 474.2h0M80.0 484.5h0" fill="none" stroke="#7E2F8E" stroke-width="1.3" stroke-linecap="round"/>
<path d="M203.0 497.5L203.0 460.2L203.4 452.4L203.8 445.0L204.2 437.9L204.6 431.1L205.0 424.7L205.4 418.6L205.8 412.9L206.2 407.5L206.6 402.5L207.0 397.8L207.4 393.5L207.8 389.5L208.2 386.0L208.6 382.8L209.0 380.1L209.4 377.7L209.8 375.8L210.2 374.4L210.6 373.4L211.0 373.0L211.4 373.2L211.8 373.9L212.2 375.4L212.6 377.8L213.0 381.1L213.4 385.7L213.8 392.1L214.2 401.1L214.6 414.9L215.0 441.8L215.4 477.0L215.8 425.5L216.2 407.2L216.6 396.1L217.0 388.6L217.4 383.2L217.8 379.3L218.2 376.5L218.6 374.6L219.0 373.5L219.4 373.0L219.8 373.2L220.2 373.8L220.6 375.0L221.0 376.7L221.4 378.8L221.8 381.4L222.2 384.3L222.6 387.7L223.0 391.5L223.4 395.6L223.8 400.1L224.2 404.9L224.6 410.2L225.0 415.7L225.4 421.6L225.8 427.9L226.2 434.5L226.6 441.4L227.0 448.7L227.4 456.3L227.8 464.2L228.2 472.4L228.6 481.0L229.0 489.9L229.4 497.5L229.8 497.5L229.8 497.5Z" fill="#77AC30" fill-opacity="1.0" stroke="none"/>
<path d="M202.9 497.5V463.4M203.4 497.5V453.0M203.7 497.5V446.5M204.3 497.5V438.8M204.5 497.5V431.3M205.0 497.5V429.0M205.5 497.5V421.1M205.7 497.5V417.1M206.3 497.5V407.7M206.5 497.5V410.1M206.9 497.5V398.4M207.4 497.5V396.5M207.9 497.5V395.7M208.2 497.5V388.7M208.6 497.5V383.9M209.1 497.5V382.6M209.3 497.5V378.2M209.8 497.5V378.1M210.2 497.5V374.8M210.6 497.5V373.7M210.9 497.5V380.5M211.3 497.5V373.7M211.8 497.5V374.8M212.1 497.5V377.2M212.5 497.5V379.2M212.9 497.5V382.6M213.5 497.5V388.9M213.8 497.5V394.6M214.1 497.5V402.2M214.6 497.5V415.5M215.1 497.5V446.8M215.3 497.5V477.3M215.7 497.5V427.6M216.3 497.5V410.5M216.5 497.5V398.8M217.0 497.5V389.0M217.4 497.5V386.6M217.8 497.5V381.1M218.2 497.5V377.3M218.5 497.5V376.0M219.1 497.5V380.0M219.5 497.5V374.5M219.7 497.5V377.7M220.1 497.5V374.9M220.6 497.5V381.4M221.1 497.5V379.1M221.5 497.5V379.6M221.7 497.5V382.9M222.3 497.5V385.0M222.6 497.5V390.0M223.1 497.5V392.7M223.5 497.5V395.6M223.7 497.5V400.7M224.1 497.5V411.1M224.5 497.5V415.5M224.9 497.5V417.4M225.5 497.5V423.1M225.7 497.5V428.7M226.1 497.5V440.9M226.6 497.5V442.2M227.0 497.5V452.3M227.5 497.5V458.8M227.9 497.5V464.3M228.1 497.5V472.5M228.5 497.5V486.5M229.1 497.5V490.4" fill="none" stroke="#77AC30" stroke-width="0.5" stroke-opacity="1.0"/>
<path d="M202.9 463.4h0M203.4 453.0h0M203.7 446.5h0M204.3 438.8h0M204.5 431.3h0M205.0 429.0h0M205.5 421.1h0M205.7 417.1h0M206.3 407.7h0M206.5 410.1h0M206.9 398.4h0M207.4 396.5h0M207.9 395.7h0M208.2 388.7h0M208.6 383.9h0M209.1 382.6h0M209.3 378.2h0M209.8 378.1h0M210.2 374.8h0M210.6 373.7h0M210.9 380.5h0M211.3 373.7h0M211.8 374.8h0M212.1 377.2h0M212.5 379.2h0M212.9 382.6h0M213.5 388.9h0M213.8 394.6h0M214.1 402.2h0M214.6 415.5h0M215.1 446.8h0M215.3 477.3h0M215.7 427.6h0M216.3 410.5h0M216.5 398.8h0M217.0 389.0h0M217.4 386.6h0M217.8 381.1h0M218.2 377.3h0M218.5 376.0h0M219.1 380.0h0M219.5 374.5h0M219.7 377.7h0M220.1 374.9h0M220.6 381.4h0M221.1 379.1h0M221.5 379.6h0M221.7 382.9h0M222.3 385.0h0M222.6 390.0h0M223.1 392.7h0M223.5 395.6h0M223.7 400.7h0M224.1 411.1h0M224.5 415.5h0M224.9 417.4h0M225.5 423.1h0M225.7 428.7h0M226.1 440.9h0M226.6 442.2h0M227.0 452.3h0M227.5 458.8h0M227.9 464.3h0M228.1 472.5h0M228.5 486.5h0M229.1 490.4h0" fill="none" stroke="#77AC30" stroke-width="1.0" stroke-linecap="round"/>
<path d="M118.0 497.5L118.0 497.5L118.3 477.4L118.7 457.3L119.0 437.8L119.4 422.0L119.7 406.3L120.1 393.7L120.4 389.0L120.8 384.3L121.1 379.7L121.5 375.0L121.8 371.0L122.2 367.1L122.5 363.1L122.9 359.1L123.2 356.2L123.6 353.6L123.9 351.0L124.3 348.5L124.6 346.5L125.0 345.2L125.3 344.0L125.7 342.7L126.0 341.5L126.4 342.3L126.7 343.5L127.1 344.7L127.4 345.8L127.8 349.7L128.1 354.0L128.5 358.3L128.8 363.8L129.2 376.7L129.5 389.5L129.9 386.8L130.2 372.3L130.6 360.9L130.9 357.2L131.3 353.4L131.6 349.6L132.0 347.4L132.3 346.2L132.7 345.1L133.0 344.0L133.4 344.0L133.7 344.9L134.1 345.7L134.4 346.6L134.8 347.5L135.1 348.7L135.5 350.5L135.8 352.2L136.2 354.0L136.5 355.7L136.9 357.5L137.2 359.5L137.6 361.6L137.9 363.7L138.3 365.8L138.6 367.9L139.0 370.0L139.3 372.1L139.7 374.2L140.0 376.3L140.4 378.4L140.7 380.5L141.1 382.7L141.4 385.1L141.8 387.6L142.1 390.0L142.5 392.5L142.8 394.9L143.2 397.9L143.5 401.2L143.9 404.5L144.2 407.9L144.6 411.2L144.9 414.5L145.3 419.5L145.6 424.7L146.0 430.0L146.3 435.2L146.7 440.5L147.0 446.7L147.4 459.0L147.7 471.2L148.1 483.5L148.4 495.7L148.4 497.5Z" fill="#4DBEEE" fill-opacity="1.0" stroke="none"/>
<path d="M118.3 497.5V480.4M118.6 497.5V458.4M119.2 497.5V438.7M119.3 497.5V422.3M119.9 497.5V406.6M120.1 497.5V394.3M120.5 497.5V390.2M120.7 497.5V386.1M121.0 497.5V381.1M121.6 497.5V376.4M121.8 497.5V371.5M122.1 497.5V367.8M122.5 497.5V363.9M122.9 497.5V360.8M123.3 497.5V356.6M123.6 497.5V355.3M123.8 497.5V351.2M124.2 497.5V350.2M124.6 497.5V347.5M125.0 497.5V346.6M125.3 497.5V344.8M125.7 497.5V343.9M126.0 497.5V343.4M126.4 497.5V342.4M126.8 497.5V345.1M127.0 497.5V345.2M127.6 497.5V346.6M127.7 497.5V349.8M128.0 497.5V354.3M128.5 497.5V359.4M129.0 497.5V365.4M129.3 497.5V379.1M129.4 497.5V390.9M130.0 497.5V387.2M130.3 497.5V374.7M130.7 497.5V361.7M131.0 497.5V358.5M131.2 497.5V356.1M131.5 497.5V350.1M132.1 497.5V347.8M132.2 497.5V346.7M132.6 497.5V347.3M133.1 497.5V344.1M133.5 497.5V344.4M133.8 497.5V345.4M134.1 497.5V348.0M134.3 497.5V346.9M134.7 497.5V349.8M135.1 497.5V352.6M135.5 497.5V351.4M135.8 497.5V354.3M136.2 497.5V356.1M136.6 497.5V356.1M137.0 497.5V358.2M137.2 497.5V360.3M137.5 497.5V362.5M137.9 497.5V365.0M138.3 497.5V366.8M138.6 497.5V368.3M139.1 497.5V371.2M139.2 497.5V372.3M139.8 497.5V375.4M140.0 497.5V376.6M140.5 497.5V380.4M140.6 497.5V381.4M141.1 497.5V383.1M141.6 497.5V386.3M141.8 497.5V388.4M142.2 497.5V392.2M142.5 497.5V393.1M142.8 497.5V396.8M143.3 497.5V398.0M143.5 497.5V402.2M144.0 497.5V407.0M144.2 497.5V409.4M144.7 497.5V412.0M144.8 497.5V414.9M145.3 497.5V420.6M145.6 497.5V424.8M145.9 497.5V430.0M146.4 497.5V436.8M146.6 497.5V440.9M147.1 497.5V448.2M147.3 497.5V461.3M147.6 497.5V472.9M148.2 497.5V484.1M148.5 497.5V496.3" fill="none" stroke="#4DBEEE" stroke-width="0.5" stroke-opacity="1.0"/>
<path d="M118.3 480.4h0M118.6 458.4h0M119.2 438.7h0M119.3 422.3h0M119.9 406.6h0M120.1 394.3h0M120.5 390.2h0M120.7 386.1h0M121.0 381.1h0M121.6 376.4h0M121.8 371.5h0M122.1 367.8h0M122.5 363.9h0M122.9 360.8h0M123.3 356.6h0M123.6 355.3h0M123.8 351.2h0M124.2 350.2h0M124.6 347.5h0M125.0 346.6h0M125.3 344.8h0M125.7 343.9h0M126.0 343.4h0M126.4 342.4h0M126.8 345.1h0M127.0 345.2h0M127.6 346.6h0M127.7 349.8h0M128.0 354.3h0M128.5 359.4h0M129.0 365.4h0M129.3 379.1h0M129.4 390.9h0M130.0 387.2h0M130.3 374.7h0M130.7 361.7h0M131.0 358.5h0M131.2 356.1h0M131.5 350.1h0M132.1 347.8h0M132.2 346.7h0M132.6 347.3h0M133.1 344.1h0M133.5 344.4h0M133.8 345.4h0M134.1 348.0h0M134.3 346.9h0M134.7 349.8h0M135.1 352.6h0M135.5 351.4h0M135.8 354.3h0M136.2 356.1h0M136.6 356.1h0M137.0 358.2h0M137.2 360.3h0M137.5 362.5h0M137.9 365.0h0M138.3 366.8h0M138.6 368.3h0M139.1 371.2h0M139.2 372.3h0M139.8 375.4h0M140.0 376.6h0M140.5 380.4h0M140.6 381.4h0M141.1 383.1h0M141.6 386.3h0M141.8 388.4h0M142.2 392.2h0M142.5 393.1h0M142.8 396.8h0M143.3 398.0h0M143.5 402.2h0M144.0 407.0h0M144.2 409.4h0M144.7 412.0h0M144.8 414.9h0M145.3 420.6h0M145.6 424.8h0M145.9 430.0h0M146.4 436.8h0M146.6 440.9h0M147.1 448.2h0M147.3 461.3h0M147.6 472.9h0M148.2 484.1h0M148.5 496.3h0" fill="none" stroke="#4DBEEE" stroke-width="1.0" stroke-linecap="round"/>
<path d="M77.5 497.5V495.5M78.0 497.5V495.5M79.3 497.5V495.5M79.8 497.5V495.5M82.0 497.5V481.5M82.5 497.5V476.3M82.9 497.5V495.5M83.8 497.5V478.3M85.6 497.5V495.5M86.1 497.5V469.2M86.5 497.5V461.3M87.0 497.5V495.5M87.4 497.5V471.9M87.9 497.5V461.4M88.3 497.5V483.1M90.6 497.5V479.0M91.0 497.5V466.6M91.5 497.5V443.7M91.9 497.5V479.8M93.3 497.5V469.7M93.7 497.5V449.5M94.2 497.5V467.1M95.1 497.5V444.5M95.5 497.5V435.2M96.4 497.5V444.4M97.3 497.5V455.3M97.8 497.5V416.0M98.7 497.5V480.5M99.1 497.5V425.1M99.6 497.5V451.0M100.5 497.5V451.7M100.9 497.5V456.0M101.4 497.5V414.1M102.3 497.5V421.2M102.7 497.5V452.4M103.2 497.5V423.1M103.6 497.5V426.2M104.1 497.5V432.4M104.5 497.5V430.9M105.0 497.5V428.5M105.4 497.5V409.0M105.9 497.5V407.3M106.8 497.5V426.1M107.2 497.5V414.9M107.7 497.5V418.8M108.1 497.5V427.7M108.6 497.5V427.8M109.0 497.5V404.0M109.9 497.5V477.8M110.4 497.5V422.9M110.8 497.5V432.8M111.7 497.5V429.3M112.6 497.5V429.2M113.5 497.5V408.6M114.0 497.5V466.0M114.4 497.5V406.9M114.9 497.5V432.0M115.8 497.5V410.7M116.7 497.5V451.0M117.6 497.5V416.8M118.0 497.5V408.7M118.5 497.5V423.8M118.9 497.5V423.3M119.4 497.5V428.2M120.3 497.5V422.5M121.2 497.5V407.7M121.6 497.5V418.5M122.1 497.5V425.8M122.5 497.5V418.1M123.0 497.5V437.0M123.4 497.5V422.1M123.9 497.5V473.7M125.2 497.5V407.1M125.7 497.5V408.1M126.1 497.5V418.2M127.0 497.5V458.1M127.5 497.5V420.8M128.4 497.5V422.8M129.3 497.5V417.8M129.7 497.5V425.3M130.6 497.5V457.1M131.5 497.5V435.1M132.4 497.5V434.0M132.9 497.5V423.8M133.8 497.5V469.4M134.2 497.5V427.3M135.6 497.5V439.1M136.9 497.5V452.2M137.4 497.5V450.2M137.8 497.5V442.5M138.3 497.5V441.7M138.7 497.5V423.9M139.2 497.5V413.8M139.6 497.5V461.4M140.1 497.5V458.4M140.5 497.5V424.7M140.9 497.5V421.1M141.4 497.5V410.3M141.8 497.5V421.6M142.3 497.5V416.7M142.7 497.5V435.3M143.6 497.5V449.6M144.5 497.5V435.3M145.4 497.5V420.6M145.9 497.5V465.6M146.3 497.5V458.4M146.8 497.5V427.5M147.2 497.5V462.9M147.7 497.5V456.3M148.6 497.5V428.4M149.0 497.5V434.6M149.9 497.5V447.2M150.4 497.5V495.5M150.8 497.5V446.6M151.3 497.5V465.8M151.7 497.5V447.3M152.6 497.5V456.8M153.1 497.5V458.7M153.5 497.5V445.8M154.4 497.5V437.5M154.9 497.5V447.7M155.3 497.5V482.3M155.8 497.5V474.2M156.2 497.5V474.8M156.7 497.5V439.3M157.6 497.5V458.1M158.0 497.5V447.2M158.5 497.5V447.0M159.4 497.5V480.9M159.8 497.5V437.6M160.7 497.5V438.0M161.2 497.5V447.6M161.6 497.5V472.2M162.1 497.5V495.5M162.5 497.5V468.9M163.0 497.5V454.4M163.4 497.5V480.3M163.9 497.5V450.0M164.3 497.5V450.3M164.8 497.5V445.5M165.7 497.5V474.0M166.1 497.5V458.3M167.5 497.5V495.5M167.9 497.5V453.8M168.4 497.5V470.3M168.8 497.5V460.8M169.7 497.5V495.5M171.1 497.5V495.5" fill="none" stroke="#A2142F" stroke-width="0.75" stroke-opacity="1.0"/>
<path d="M77.5 495.5h0M78.0 495.5h0M79.3 495.5h0M79.8 495.5h0M82.0 481.5h0M82.5 476.3h0M82.9 495.5h0M83.8 478.3h0M85.6 495.5h0M86.1 469.2h0M86.5 461.3h0M87.0 495.5h0M87.4 471.9h0M87.9 461.4h0M88.3 483.1h0M90.6 479.0h0M91.0 466.6h0M91.5 443.7h0M91.9 479.8h0M93.3 469.7h0M93.7 449.5h0M94.2 467.1h0M95.1 444.5h0M95.5 435.2h0M96.4 444.4h0M97.3 455.3h0M97.8 416.0h0M98.7 480.5h0M99.1 425.1h0M99.6 451.0h0M100.5 451.7h0M100.9 456.0h0M101.4 414.1h0M102.3 421.2h0M102.7 452.4h0M103.2 423.1h0M103.6 426.2h0M104.1 432.4h0M104.5 430.9h0M105.0 428.5h0M105.4 409.0h0M105.9 407.3h0M106.8 426.1h0M107.2 414.9h0M107.7 418.8h0M108.1 427.7h0M108.6 427.8h0M109.0 404.0h0M109.9 477.8h0M110.4 422.9h0M110.8 432.8h0M111.7 429.3h0M112.6 429.2h0M113.5 408.6h0M114.0 466.0h0M114.4 406.9h0M114.9 432.0h0M115.8 410.7h0M116.7 451.0h0M117.6 416.8h0M118.0 408.7h0M118.5 423.8h0M118.9 423.3h0M119.4 428.2h0M120.3 422.5h0M121.2 407.7h0M121.6 418.5h0M122.1 425.8h0M122.5 418.1h0M123.0 437.0h0M123.4 422.1h0M123.9 473.7h0M125.2 407.1h0M125.7 408.1h0M126.1 418.2h0M127.0 458.1h0M127.5 420.8h0M128.4 422.8h0M129.3 417.8h0M129.7 425.3h0M130.6 457.1h0M131.5 435.1h0M132.4 434.0h0M132.9 423.8h0M133.8 469.4h0M134.2 427.3h0M135.6 439.1h0M136.9 452.2h0M137.4 450.2h0M137.8 442.5h0M138.3 441.7h0M138.7 423.9h0M139.2 413.8h0M139.6 461.4h0M140.1 458.4h0M140.5 424.7h0M140.9 421.1h0M141.4 410.3h0M141.8 421.6h0M142.3 416.7h0M142.7 435.3h0M143.6 449.6h0M144.5 435.3h0M145.4 420.6h0M145.9 465.6h0M146.3 458.4h0M146.8 427.5h0M147.2 462.9h0M147.7 456.3h0M148.6 428.4h0M149.0 434.6h0M149.9 447.2h0M150.4 495.5h0M150.8 446.6h0M151.3 465.8h0M151.7 447.3h0M152.6 456.8h0M153.1 458.7h0M153.5 445.8h0M154.4 437.5h0M154.9 447.7h0M155.3 482.3h0M155.8 474.2h0M156.2 474.8h0M156.7 439.3h0M157.6 458.1h0M158.0 447.2h0M158.5 447.0h0M159.4 480.9h0M159.8 437.6h0M160.7 438.0h0M161.2 447.6h0M161.6 472.2h0M162.1 495.5h0M162.5 468.9h0M163.0 454.4h0M163.4 480.3h0M163.9 450.0h0M164.3 450.3h0M164.8 445.5h0M165.7 474.0h0M166.1 458.3h0M167.5 495.5h0M167.9 453.8h0M168.4 470.3h0M168.8 460.8h0M169.7 495.5h0M171.1 495.5h0" fill="none" stroke="#A2142F" stroke-width="0.9" stroke-linecap="round"/>
<path d="M78.0 497.5V466.1M80.1 497.5V468.1M80.9 497.5V470.6M81.8 497.5V442.9M82.7 497.5V435.4M83.9 497.5V441.9M85.3 497.5V443.9M86.9 497.5V445.3M88.4 497.5V435.7M89.5 497.5V434.3M90.9 497.5V424.3M92.1 497.5V429.5M93.6 497.5V404.6M95.3 497.5V429.6M96.1 497.5V381.7M97.0 497.5V464.4M98.5 497.5V382.9M99.9 497.5V376.9M100.7 497.5V385.2M102.3 497.5V389.1M104.0 497.5V386.4M104.9 497.5V388.4M106.4 497.5V373.3M107.3 497.5V369.1M108.9 497.5V361.7M110.1 497.5V388.3M111.4 497.5V424.7M112.5 497.5V400.8M113.7 497.5V378.2M114.6 497.5V381.3M116.2 497.5V390.5M117.7 497.5V423.8M118.9 497.5V372.4M120.5 497.5V376.5M121.7 497.5V374.0M122.7 497.5V378.7M124.2 497.5V388.1M125.6 497.5V389.2M126.9 497.5V392.7M127.8 497.5V364.5M129.4 497.5V397.5M130.4 497.5V391.7M132.0 497.5V376.5M133.4 497.5V390.9M134.9 497.5V388.9M136.6 497.5V380.0M137.6 497.5V422.0M139.1 497.5V444.6M140.6 497.5V420.2M141.7 497.5V393.3M142.5 497.5V384.2M143.4 497.5V436.6M144.6 497.5V394.4M145.7 497.5V390.8M147.2 497.5V477.8M148.7 497.5V421.1M150.3 497.5V391.5M151.7 497.5V406.1M153.0 497.5V426.5M154.1 497.5V392.8M155.1 497.5V413.6M156.0 497.5V404.8M157.7 497.5V435.7M158.8 497.5V395.3M159.7 497.5V421.8M160.8 497.5V444.7M162.4 497.5V419.3M163.3 497.5V459.6M164.5 497.5V413.0M165.8 497.5V415.5M166.9 497.5V425.3M168.0 497.5V411.4M169.1 497.5V419.2M170.3 497.5V431.7" fill="none" stroke="#A2142F" stroke-width="1.0" stroke-opacity="0.95"/>
<path d="M78.0 466.1h0M80.1 468.1h0M80.9 470.6h0M81.8 442.9h0M82.7 435.4h0M83.9 441.9h0M85.3 443.9h0M86.9 445.3h0M88.4 435.7h0M89.5 434.3h0M90.9 424.3h0M92.1 429.5h0M93.6 404.6h0M95.3 429.6h0M96.1 381.7h0M97.0 464.4h0M98.5 382.9h0M99.9 376.9h0M100.7 385.2h0M102.3 389.1h0M104.0 386.4h0M104.9 388.4h0M106.4 373.3h0M107.3 369.1h0M108.9 361.7h0M110.1 388.3h0M111.4 424.7h0M112.5 400.8h0M113.7 378.2h0M114.6 381.3h0M116.2 390.5h0M117.7 423.8h0M118.9 372.4h0M120.5 376.5h0M121.7 374.0h0M122.7 378.7h0M124.2 388.1h0M125.6 389.2h0M126.9 392.7h0M127.8 364.5h0M129.4 397.5h0M130.4 391.7h0M132.0 376.5h0M133.4 390.9h0M134.9 388.9h0M136.6 380.0h0M137.6 422.0h0M139.1 444.6h0M140.6 420.2h0M141.7 393.3h0M142.5 384.2h0M143.4 436.6h0M144.6 394.4h0M145.7 390.8h0M147.2 477.8h0M148.7 421.1h0M150.3 391.5h0M151.7 406.1h0M153.0 426.5h0M154.1 392.8h0M155.1 413.6h0M156.0 404.8h0M157.7 435.7h0M158.8 395.3h0M159.7 421.8h0M160.8 444.7h0M162.4 419.3h0M163.3 459.6h0M164.5 413.0h0M165.8 415.5h0M166.9 425.3h0M168.0 411.4h0M169.1 419.2h0M170.3 431.7h0" fill="none" stroke="#A2142F" stroke-width="1.8" stroke-linecap="round"/>
<path d="M118.5 497.5L118.5 497.5L119.0 473.5L119.5 449.6L120.0 436.1L120.5 429.6L121.0 423.0L121.5 416.5L122.0 410.0L122.5 408.8L123.0 407.5L123.5 406.2L124.0 405.0L124.5 403.8L125.0 402.5L125.5 401.2L126.0 400.0L126.5 399.7L127.0 399.4L127.5 399.1L128.0 398.8L128.5 398.5L129.0 398.2L129.5 397.9L130.0 397.6L130.5 397.3L131.0 397.0L131.5 397.6L132.0 398.2L132.5 398.8L133.0 399.4L133.5 400.0L134.0 400.6L134.5 401.2L135.0 401.8L135.5 402.4L136.0 403.0L136.5 405.5L137.0 408.0L137.5 410.5L138.0 413.0L138.5 415.5L139.0 418.0L139.5 422.4L140.0 426.8L140.5 431.2L141.0 435.6L141.5 440.0L142.0 450.0L142.5 460.0L143.0 470.0L143.5 483.8L144.0 497.5L144.0 497.5Z" fill="#A2142F" fill-opacity="1.0" stroke="none"/>
<path d="M120.1 497.5V470.4M120.4 497.5V433.5M121.4 497.5V434.0M122.1 497.5V418.3M122.4 497.5V419.5M122.9 497.5V408.6M123.5 497.5V409.5M124.1 497.5V409.2M124.4 497.5V410.2M126.0 497.5V407.7M126.6 497.5V406.7M127.0 497.5V399.9M127.5 497.5V408.0M128.0 497.5V399.7M128.5 497.5V415.1M129.1 497.5V399.1M129.5 497.5V399.9M129.9 497.5V398.0M130.5 497.5V406.6M130.9 497.5V407.7M131.5 497.5V405.2M131.9 497.5V403.2M132.4 497.5V408.5M133.0 497.5V419.3M133.4 497.5V412.9M133.9 497.5V410.5M134.5 497.5V411.4M135.0 497.5V406.4M135.5 497.5V411.3M136.0 497.5V414.4M136.4 497.5V409.4M136.9 497.5V411.8M137.5 497.5V415.8M138.0 497.5V416.1M138.4 497.5V421.8M139.1 497.5V427.8M140.0 497.5V452.7M141.0 497.5V450.3M141.5 497.5V449.6M142.1 497.5V461.4M142.4 497.5V476.2M143.1 497.5V477.9M143.6 497.5V488.7" fill="none" stroke="#A2142F" stroke-width="0.5" stroke-opacity="1.0"/>
<path d="M120.1 470.4h0M120.4 433.5h0M121.4 434.0h0M122.1 418.3h0M122.4 419.5h0M122.9 408.6h0M123.5 409.5h0M124.1 409.2h0M124.4 410.2h0M126.0 407.7h0M126.6 406.7h0M127.0 399.9h0M127.5 408.0h0M128.0 399.7h0M128.5 415.1h0M129.1 399.1h0M129.5 399.9h0M129.9 398.0h0M130.5 406.6h0M130.9 407.7h0M131.5 405.2h0M131.9 403.2h0M132.4 408.5h0M133.0 419.3h0M133.4 412.9h0M133.9 410.5h0M134.5 411.4h0M135.0 406.4h0M135.5 411.3h0M136.0 414.4h0M136.4 409.4h0M136.9 411.8h0M137.5 415.8h0M138.0 416.1h0M138.4 421.8h0M139.1 427.8h0M140.0 452.7h0M141.0 450.3h0M141.5 449.6h0M142.1 461.4h0M142.4 476.2h0M143.1 477.9h0M143.6 488.7h0" fill="none" stroke="#A2142F" stroke-width="1.0" stroke-linecap="round"/>
<path d="M168.0 497.5V475.6M169.1 497.5V464.5M170.2 497.5V454.0M171.3 497.5V444.0M172.4 497.5V434.6M173.5 497.5V425.8M174.6 497.5V417.6M175.7 497.5V410.0M176.8 497.5V403.0M177.9 497.5V396.7M179.0 497.5V391.0M180.1 497.5V385.9M181.2 497.5V381.5M182.3 497.5V377.9M183.4 497.5V375.0M184.5 497.5V372.9M185.6 497.5V371.6M186.7 497.5V371.3M187.8 497.5V372.1M188.9 497.5V374.0M190.0 497.5V377.5M191.1 497.5V383.0M192.2 497.5V391.4M193.3 497.5V404.9M194.4 497.5V432.0M195.5 497.5V465.6M196.6 497.5V416.6M197.7 497.5V398.9M198.8 497.5V388.8M199.9 497.5V382.4M201.0 497.5V378.3M202.1 497.5V376.0M203.2 497.5V375.0M204.3 497.5V375.3M205.4 497.5V376.6M206.5 497.5V378.8M207.6 497.5V381.9M208.7 497.5V385.8M209.8 497.5V390.5M210.9 497.5V395.9M212.0 497.5V402.1" fill="none" stroke="#0072BD" stroke-width="1.1" stroke-opacity="0.38"/>
<path d="M168.0 475.6h0M169.1 464.5h0M170.2 454.0h0M171.3 444.0h0M172.4 434.6h0M173.5 425.8h0M174.6 417.6h0M175.7 410.0h0M176.8 403.0h0M177.9 396.7h0M179.0 391.0h0M180.1 385.9h0M181.2 381.5h0M182.3 377.9h0M183.4 375.0h0M184.5 372.9h0M185.6 371.6h0M186.7 371.3h0M187.8 372.1h0M188.9 374.0h0M190.0 377.5h0M191.1 383.0h0M192.2 391.4h0M193.3 404.9h0M194.4 432.0h0M195.5 465.6h0M196.6 416.6h0M197.7 398.9h0M198.8 388.8h0M199.9 382.4h0M201.0 378.3h0M202.1 376.0h0M203.2 375.0h0M204.3 375.3h0M205.4 376.6h0M206.5 378.8h0M207.6 381.9h0M208.7 385.8h0M209.8 390.5h0M210.9 395.9h0M212.0 402.1h0" fill="none" stroke="#0072BD" stroke-width="1.5" stroke-linecap="round"/>
<path d="M148.0 497.5L148.0 497.5L148.5 496.7L149.0 495.9L149.5 495.1L150.0 494.2L150.5 493.4L151.0 492.6L151.5 491.8L152.0 491.0L152.5 490.9L153.0 490.8L153.5 490.7L154.0 490.6L154.5 490.5L155.0 490.4L155.5 490.3L156.0 490.2L156.5 490.2L157.0 490.1L157.5 490.0L158.0 489.9L158.5 489.8L159.0 489.7L159.5 489.6L160.0 489.5L160.5 489.6L161.0 489.7L161.5 489.8L162.0 489.9L162.5 490.0L163.0 490.1L163.5 490.2L164.0 490.2L164.5 490.3L165.0 490.4L165.5 490.5L166.0 490.6L166.5 490.7L167.0 490.8L167.5 490.9L168.0 491.0L168.5 491.6L169.0 492.3L169.5 492.9L170.0 493.6L170.5 494.2L171.0 494.9L171.5 495.6L172.0 496.2L172.5 496.9L173.0 497.5L173.0 497.5Z" fill="#D95319" fill-opacity="1.0" stroke="none"/>
<path d="M148.9 497.5V497.1M149.6 497.5V496.4M149.9 497.5V495.2M150.5 497.5V494.6M151.1 497.5V493.7M151.4 497.5V493.1M152.0 497.5V492.0M152.6 497.5V492.0M152.9 497.5V491.0M153.5 497.5V493.2M154.0 497.5V492.1M154.4 497.5V492.6M155.1 497.5V491.7M155.4 497.5V493.3M156.0 497.5V490.3M156.5 497.5V491.0M157.0 497.5V492.4M157.6 497.5V491.2M157.9 497.5V492.4M158.4 497.5V489.9M158.9 497.5V493.3M159.4 497.5V493.1M160.1 497.5V491.1M160.6 497.5V490.7M160.9 497.5V490.2M161.5 497.5V490.2M161.9 497.5V491.6M162.4 497.5V491.3M162.9 497.5V492.0M163.6 497.5V491.1M164.1 497.5V490.9M164.4 497.5V492.3M165.0 497.5V492.0M165.6 497.5V493.3M166.1 497.5V491.5M166.6 497.5V491.3M167.0 497.5V493.3M167.4 497.5V492.2M167.9 497.5V491.3M168.4 497.5V492.7M168.9 497.5V492.9M169.5 497.5V494.1M170.1 497.5V495.0M170.4 497.5V495.3M171.1 497.5V495.4M171.6 497.5V497.0" fill="none" stroke="#D95319" stroke-width="0.5" stroke-opacity="1.0"/>
<path d="M148.9 497.1h0M149.6 496.4h0M149.9 495.2h0M150.5 494.6h0M151.1 493.7h0M151.4 493.1h0M152.0 492.0h0M152.6 492.0h0M152.9 491.0h0M153.5 493.2h0M154.0 492.1h0M154.4 492.6h0M155.1 491.7h0M155.4 493.3h0M156.0 490.3h0M156.5 491.0h0M157.0 492.4h0M157.6 491.2h0M157.9 492.4h0M158.4 489.9h0M158.9 493.3h0M159.4 493.1h0M160.1 491.1h0M160.6 490.7h0M160.9 490.2h0M161.5 490.2h0M161.9 491.6h0M162.4 491.3h0M162.9 492.0h0M163.6 491.1h0M164.1 490.9h0M164.4 492.3h0M165.0 492.0h0M165.6 493.3h0M166.1 491.5h0M166.6 491.3h0M167.0 493.3h0M167.4 492.2h0M167.9 491.3h0M168.4 492.7h0M168.9 492.9h0M169.5 494.1h0M170.1 495.0h0M170.4 495.3h0M171.1 495.4h0M171.6 497.0h0" fill="none" stroke="#D95319" stroke-width="1.0" stroke-linecap="round"/>
<path d="M240.0 497.5L240.0 497.5L240.4 484.0L240.8 470.5L241.2 457.0L241.6 443.5L242.0 430.0L242.4 426.5L242.8 423.0L243.2 419.5L243.6 416.0L244.0 412.5L244.4 409.0L244.8 405.5L245.2 402.0L245.6 398.5L246.0 395.0L246.4 393.8L246.8 392.6L247.2 391.4L247.6 390.2L248.0 389.0L248.4 387.8L248.8 386.6L249.2 385.4L249.6 384.2L250.0 383.0L250.4 382.8L250.8 382.7L251.2 382.5L251.6 382.4L252.0 382.2L252.4 382.0L252.8 381.9L253.2 381.7L253.6 381.6L254.0 381.4L254.4 381.2L254.8 381.1L255.2 381.2L255.6 381.6L256.0 382.0L256.4 382.4L256.8 382.8L257.2 383.2L257.6 383.6L258.0 384.0L258.4 384.4L258.8 384.8L259.2 385.5L259.6 386.4L260.0 387.3L260.4 388.3L260.8 389.2L261.2 390.1L261.6 391.1L262.0 392.0L262.4 394.0L262.8 396.0L263.2 398.0L263.6 400.0L263.6 497.5Z" fill="#EDB120" fill-opacity="1.0" stroke="none"/>
<path d="M240.3 497.5V488.2M240.7 497.5V471.4M241.2 497.5V462.4M241.6 497.5V447.9M242.1 497.5V432.0M242.3 497.5V432.2M242.9 497.5V429.9M243.1 497.5V425.2M243.5 497.5V418.2M244.1 497.5V413.0M244.4 497.5V419.0M244.8 497.5V407.9M245.3 497.5V402.6M245.7 497.5V400.4M246.0 497.5V401.6M246.5 497.5V396.0M246.9 497.5V395.6M247.3 497.5V395.0M247.7 497.5V393.7M248.0 497.5V394.9M248.3 497.5V393.7M248.9 497.5V394.6M249.1 497.5V385.4M249.5 497.5V388.3M250.1 497.5V384.7M250.4 497.5V385.3M250.8 497.5V388.8M251.2 497.5V385.8M251.6 497.5V386.6M252.1 497.5V384.8M252.5 497.5V383.9M252.8 497.5V387.5M253.1 497.5V383.4M253.7 497.5V387.2M253.9 497.5V384.2M254.5 497.5V386.0M254.9 497.5V381.7M255.3 497.5V381.7M255.7 497.5V385.0M256.0 497.5V384.2M256.5 497.5V388.6M256.7 497.5V387.0M257.3 497.5V391.7M257.5 497.5V389.9M257.9 497.5V385.9M258.5 497.5V387.5M258.8 497.5V389.1M259.2 497.5V386.4M259.7 497.5V389.1M259.9 497.5V396.7M260.4 497.5V393.7M260.7 497.5V391.4M261.1 497.5V390.4M261.7 497.5V391.6M262.1 497.5V396.4M262.5 497.5V394.5M262.9 497.5V397.3M263.3 497.5V400.9M263.6 497.5V409.6" fill="none" stroke="#EDB120" stroke-width="0.5" stroke-opacity="1.0"/>
<path d="M240.3 488.2h0M240.7 471.4h0M241.2 462.4h0M241.6 447.9h0M242.1 432.0h0M242.3 432.2h0M242.9 429.9h0M243.1 425.2h0M243.5 418.2h0M244.1 413.0h0M244.4 419.0h0M244.8 407.9h0M245.3 402.6h0M245.7 400.4h0M246.0 401.6h0M246.5 396.0h0M246.9 395.6h0M247.3 395.0h0M247.7 393.7h0M248.0 394.9h0M248.3 393.7h0M248.9 394.6h0M249.1 385.4h0M249.5 388.3h0M250.1 384.7h0M250.4 385.3h0M250.8 388.8h0M251.2 385.8h0M251.6 386.6h0M252.1 384.8h0M252.5 383.9h0M252.8 387.5h0M253.1 383.4h0M253.7 387.2h0M253.9 384.2h0M254.5 386.0h0M254.9 381.7h0M255.3 381.7h0M255.7 385.0h0M256.0 384.2h0M256.5 388.6h0M256.7 387.0h0M257.3 391.7h0M257.5 389.9h0M257.9 385.9h0M258.5 387.5h0M258.8 389.1h0M259.2 386.4h0M259.7 389.1h0M259.9 396.7h0M260.4 393.7h0M260.7 391.4h0M261.1 390.4h0M261.7 391.6h0M262.1 396.4h0M262.5 394.5h0M262.9 397.3h0M263.3 400.9h0M263.6 409.6h0" fill="none" stroke="#EDB120" stroke-width="1.0" stroke-linecap="round"/>
<path d="M203.0 497.5V417.5M204.0 497.5V409.0M205.0 497.5V400.8M206.0 497.5V393.1M207.0 497.5V385.9M208.0 497.5V379.2M209.0 497.5V372.9M210.0 497.5V367.1M211.0 497.5V361.8M212.0 497.5V357.0M213.0 497.5V352.7M214.0 497.5V349.0M215.0 497.5V345.8M216.0 497.5V343.1M217.0 497.5V341.1M218.0 497.5V339.7M219.0 497.5V339.1M220.0 497.5V339.1M221.0 497.5V340.1M222.0 497.5V342.0M223.0 497.5V345.1M224.0 497.5V349.8M225.0 497.5V356.5M226.0 497.5V366.5M227.0 497.5V383.1M228.0 497.5V423.0M229.0 497.5V413.9M230.0 497.5V382.8M231.0 497.5V368.0M232.0 497.5V358.7M233.0 497.5V352.5M234.0 497.5V348.1M235.0 497.5V345.2M236.0 497.5V343.4M237.0 497.5V342.6M238.0 497.5V342.6M239.0 497.5V343.3M240.0 497.5V344.7M241.0 497.5V346.8M242.0 497.5V349.4M243.0 497.5V352.6M244.0 497.5V356.3M245.0 497.5V360.6M246.0 497.5V365.3M247.0 497.5V370.6M248.0 497.5V376.3M249.0 497.5V382.5M250.0 497.5V389.2M251.0 497.5V396.3M252.0 497.5V403.9M253.0 497.5V411.9M254.0 497.5V420.3M255.0 497.5V429.2M256.0 497.5V438.5M257.0 497.5V448.3M258.0 497.5V458.5M259.0 497.5V469.1M260.0 497.5V480.1" fill="none" stroke="#7E2F8E" stroke-width="1.1" stroke-opacity="0.3"/>
<path d="M203.0 417.5h0M204.0 409.0h0M205.0 400.8h0M206.0 393.1h0M207.0 385.9h0M208.0 379.2h0M209.0 372.9h0M210.0 367.1h0M211.0 361.8h0M212.0 357.0h0M213.0 352.7h0M214.0 349.0h0M215.0 345.8h0M216.0 343.1h0M217.0 341.1h0M218.0 339.7h0M219.0 339.1h0M220.0 339.1h0M221.0 340.1h0M222.0 342.0h0M223.0 345.1h0M224.0 349.8h0M225.0 356.5h0M226.0 366.5h0M227.0 383.1h0M228.0 423.0h0M229.0 413.9h0M230.0 382.8h0M231.0 368.0h0M232.0 358.7h0M233.0 352.5h0M234.0 348.1h0M235.0 345.2h0M236.0 343.4h0M237.0 342.6h0M238.0 342.6h0M239.0 343.3h0M240.0 344.7h0M241.0 346.8h0M242.0 349.4h0M243.0 352.6h0M244.0 356.3h0M245.0 360.6h0M246.0 365.3h0M247.0 370.6h0M248.0 376.3h0M249.0 382.5h0M250.0 389.2h0M251.0 396.3h0M252.0 403.9h0M253.0 411.9h0M254.0 420.3h0M255.0 429.2h0M256.0 438.5h0M257.0 448.3h0M258.0 458.5h0M259.0 469.1h0M260.0 480.1h0" fill="none" stroke="#7E2F8E" stroke-width="1.5" stroke-linecap="round"/>
<path d="M148.5 497.5L148.5 497.5L148.9 496.0L149.4 494.4L149.8 492.9L150.3 491.4L150.7 489.9L151.2 488.6L151.6 487.7L152.1 486.8L152.5 485.9L153.0 485.0L153.4 484.1L153.9 483.2L154.3 482.3L154.8 481.4L155.2 480.7L155.7 480.1L156.1 479.6L156.6 479.0L157.0 478.5L157.5 477.9L157.9 477.9L158.4 478.4L158.8 478.8L159.3 479.3L159.7 479.7L160.2 480.2L160.6 480.6L161.1 481.3L161.5 482.5L162.0 483.7L162.4 484.9L162.9 486.1L163.3 487.3L163.8 488.5L164.2 489.7L164.7 491.0L165.1 492.3L165.6 493.5L166.0 494.8L166.5 496.1L166.9 497.4L166.9 497.5Z" fill="#77AC30" fill-opacity="1.0" stroke="none"/>
<path d="M149.4 497.5V496.1M150.0 497.5V493.7M150.3 497.5V492.8M150.8 497.5V493.1M151.1 497.5V489.8M151.7 497.5V488.3M152.1 497.5V487.6M152.4 497.5V486.0M153.0 497.5V485.3M153.3 497.5V484.4M154.0 497.5V485.0M154.3 497.5V483.0M154.7 497.5V483.2M155.3 497.5V484.1M155.8 497.5V484.2M156.0 497.5V484.5M156.7 497.5V483.8M157.0 497.5V479.8M157.6 497.5V479.0M157.9 497.5V479.1M158.5 497.5V479.6M158.9 497.5V479.8M159.3 497.5V479.4M159.7 497.5V482.2M160.3 497.5V483.0M160.6 497.5V481.2M161.1 497.5V482.4M161.5 497.5V484.6M162.0 497.5V484.8M162.4 497.5V485.6M162.9 497.5V486.8M163.3 497.5V489.4M163.9 497.5V489.3M164.2 497.5V495.5M164.6 497.5V494.4M165.0 497.5V495.8M166.0 497.5V496.8" fill="none" stroke="#77AC30" stroke-width="0.5" stroke-opacity="1.0"/>
<path d="M149.4 496.1h0M150.0 493.7h0M150.3 492.8h0M150.8 493.1h0M151.1 489.8h0M151.7 488.3h0M152.1 487.6h0M152.4 486.0h0M153.0 485.3h0M153.3 484.4h0M154.0 485.0h0M154.3 483.0h0M154.7 483.2h0M155.3 484.1h0M155.8 484.2h0M156.0 484.5h0M156.7 483.8h0M157.0 479.8h0M157.6 479.0h0M157.9 479.1h0M158.5 479.6h0M158.9 479.8h0M159.3 479.4h0M159.7 482.2h0M160.3 483.0h0M160.6 481.2h0M161.1 482.4h0M161.5 484.6h0M162.0 484.8h0M162.4 485.6h0M162.9 486.8h0M163.3 489.4h0M163.9 489.3h0M164.2 495.5h0M164.6 494.4h0M165.0 495.8h0M166.0 496.8h0" fill="none" stroke="#77AC30" stroke-width="1.0" stroke-linecap="round"/>
<path d="M45.1 497.5L45.1 473.3L45.5 420.1L45.9 410.4L46.3 404.8L46.7 400.5L47.1 396.3L47.5 392.0L47.9 389.6L48.3 387.2L48.7 384.8L49.1 382.7L49.5 381.3L49.9 380.0L50.3 378.6L50.7 379.8L51.1 380.9L51.5 382.1L51.9 382.7L52.3 381.7L52.7 380.7L53.1 379.6L53.5 378.6L53.9 380.6L54.3 382.5L54.7 384.5L55.1 387.1L55.5 390.0L55.9 392.8L56.3 395.6L56.7 398.5L57.1 401.3L57.5 404.0L57.9 406.8L58.3 409.5L58.7 412.2L59.1 414.9L59.5 417.6L59.9 421.0L60.3 425.0L60.7 429.0L61.1 433.0L61.5 437.0L61.9 441.0L62.3 445.3L62.7 450.7L63.1 456.0L63.5 461.3L63.9 466.7L64.3 472.0L64.7 477.7L65.1 484.3L65.5 490.9L65.9 497.5L65.9 497.5Z" fill="#A2142F" fill-opacity="1.0" stroke="none"/>
<path d="M45.0 497.5V475.5M45.4 497.5V421.5M45.9 497.5V410.8M46.2 497.5V405.9M46.8 497.5V404.7M47.2 497.5V397.3M47.5 497.5V393.3M48.0 497.5V391.4M48.3 497.5V388.0M48.8 497.5V387.1M49.1 497.5V382.8M49.6 497.5V381.4M49.8 497.5V381.2M50.2 497.5V381.1M50.7 497.5V380.4M51.1 497.5V381.6M51.6 497.5V384.7M51.8 497.5V384.9M52.3 497.5V381.9M52.7 497.5V384.0M53.2 497.5V382.6M53.4 497.5V380.0M53.9 497.5V382.4M54.4 497.5V385.1M54.7 497.5V385.5M55.1 497.5V389.5M55.4 497.5V391.2M55.9 497.5V395.5M56.4 497.5V398.6M56.8 497.5V399.4M57.1 497.5V401.9M57.5 497.5V408.4M57.8 497.5V410.6M58.2 497.5V410.5M58.6 497.5V412.7M59.0 497.5V416.3M59.6 497.5V419.5M60.0 497.5V421.4M60.4 497.5V426.8M60.8 497.5V429.8M61.0 497.5V433.3M61.6 497.5V439.0M61.9 497.5V442.0M62.2 497.5V446.9M62.8 497.5V451.6M63.0 497.5V460.2M63.4 497.5V462.6M63.9 497.5V469.9M64.2 497.5V472.5M64.6 497.5V479.0M65.2 497.5V485.8M65.6 497.5V493.0" fill="none" stroke="#A2142F" stroke-width="0.5" stroke-opacity="1.0"/>
<path d="M45.0 475.5h0M45.4 421.5h0M45.9 410.8h0M46.2 405.9h0M46.8 404.7h0M47.2 397.3h0M47.5 393.3h0M48.0 391.4h0M48.3 388.0h0M48.8 387.1h0M49.1 382.8h0M49.6 381.4h0M49.8 381.2h0M50.2 381.1h0M50.7 380.4h0M51.1 381.6h0M51.6 384.7h0M51.8 384.9h0M52.3 381.9h0M52.7 384.0h0M53.2 382.6h0M53.4 380.0h0M53.9 382.4h0M54.4 385.1h0M54.7 385.5h0M55.1 389.5h0M55.4 391.2h0M55.9 395.5h0M56.4 398.6h0M56.8 399.4h0M57.1 401.9h0M57.5 408.4h0M57.8 410.6h0M58.2 410.5h0M58.6 412.7h0M59.0 416.3h0M59.6 419.5h0M60.0 421.4h0M60.4 426.8h0M60.8 429.8h0M61.0 433.3h0M61.6 439.0h0M61.9 442.0h0M62.2 446.9h0M62.8 451.6h0M63.0 460.2h0M63.4 462.6h0M63.9 469.9h0M64.2 472.5h0M64.6 479.0h0M65.2 485.8h0M65.6 493.0h0" fill="none" stroke="#A2142F" stroke-width="1.0" stroke-linecap="round"/>
<path d="M253.4 497.5L253.4 497.5L253.8 440.0L254.2 430.7L254.6 421.3L255.0 412.0L255.4 404.4L255.8 402.2L256.2 400.0L256.6 397.8L257.0 395.6L257.4 393.3L257.8 391.1L258.2 389.5L258.6 388.6L259.0 387.7L259.4 386.7L259.8 385.8L260.2 384.9L260.6 383.9L261.0 383.0L261.4 382.5L261.8 382.1L262.2 381.6L262.6 381.2L263.0 380.7L263.4 380.2L263.4 497.5Z" fill="#A2142F" fill-opacity="1.0" stroke="none"/>
<path d="M253.8 497.5V440.9M254.2 497.5V432.3M254.6 497.5V421.6M254.9 497.5V416.5M255.5 497.5V406.1M255.8 497.5V405.3M256.3 497.5V404.0M256.6 497.5V402.7M257.0 497.5V395.7M257.3 497.5V397.8M257.9 497.5V394.5M258.1 497.5V392.9M258.6 497.5V389.7M259.0 497.5V388.0M259.3 497.5V387.4M259.9 497.5V391.7M260.3 497.5V388.5M260.5 497.5V390.7M261.1 497.5V383.4M261.5 497.5V384.2M261.8 497.5V387.4M262.3 497.5V382.8M262.6 497.5V382.8M263.1 497.5V382.8M263.4 497.5V381.8" fill="none" stroke="#A2142F" stroke-width="0.5" stroke-opacity="1.0"/>
<path d="M253.8 440.9h0M254.2 432.3h0M254.6 421.6h0M254.9 416.5h0M255.5 406.1h0M255.8 405.3h0M256.3 404.0h0M256.6 402.7h0M257.0 395.7h0M257.3 397.8h0M257.9 394.5h0M258.1 392.9h0M258.6 389.7h0M259.0 388.0h0M259.3 387.4h0M259.9 391.7h0M260.3 388.5h0M260.5 390.7h0M261.1 383.4h0M261.5 384.2h0M261.8 387.4h0M262.3 382.8h0M262.6 382.8h0M263.1 382.8h0M263.4 381.8h0" fill="none" stroke="#A2142F" stroke-width="1.0" stroke-linecap="round"/>
<path d="M168.3 497.5L168.3 497.5L168.7 492.4L169.1 487.4L169.5 482.3L169.9 477.3L170.3 474.0L170.7 471.3L171.1 468.7L171.5 466.0L171.9 463.3L172.3 460.7L172.7 458.0L173.1 455.5L173.5 453.6L173.9 451.7L174.3 449.8L174.7 447.8L175.1 445.9L175.5 444.0L175.9 442.4L176.3 440.8L176.7 439.2L177.1 437.6L177.5 437.4L177.9 438.6L178.3 439.9L178.7 441.1L179.1 442.4L179.5 444.0L179.9 445.6L180.3 447.2L180.7 448.8L181.1 450.4L181.5 452.0L181.9 453.6L182.3 455.2L182.7 456.8L183.1 458.4L183.5 460.0L183.9 461.6L184.3 463.1L184.7 464.6L185.1 466.0L185.5 467.5L185.9 466.0L186.3 464.6L186.7 463.1L187.1 461.4L187.5 459.0L187.9 456.6L188.3 454.2L188.7 451.8L189.1 449.5L189.5 447.4L189.9 445.3L190.3 443.2L190.7 441.1L191.1 439.0L191.5 436.9L191.9 436.6L192.3 438.2L192.7 439.8L193.1 441.4L193.5 443.0L193.9 444.6L194.3 446.5L194.7 448.5L195.1 450.5L195.5 452.5L195.9 454.5L196.3 456.5L196.7 458.5L197.1 460.6L197.5 463.0L197.9 465.4L198.3 467.8L198.7 470.2L199.1 472.6L199.5 475.0L199.9 477.4L200.3 480.5L200.7 483.9L201.1 487.3L201.5 490.7L201.9 494.1L201.9 497.5Z" fill="#0072BD" fill-opacity="1.0" stroke="none"/>
<path d="M168.7 497.5V496.5M169.1 497.5V488.2M169.4 497.5V482.5M169.8 497.5V479.2M170.3 497.5V480.6M170.7 497.5V475.4M171.0 497.5V475.5M171.4 497.5V468.9M171.9 497.5V466.1M172.2 497.5V461.3M172.6 497.5V463.0M173.0 497.5V459.6M173.6 497.5V453.6M173.9 497.5V454.3M174.3 497.5V453.5M174.6 497.5V451.0M175.0 497.5V455.2M175.4 497.5V447.5M175.9 497.5V446.9M176.4 497.5V442.8M176.6 497.5V439.5M177.1 497.5V440.7M177.4 497.5V438.6M177.9 497.5V441.2M178.3 497.5V446.6M178.6 497.5V443.7M179.0 497.5V447.1M179.5 497.5V446.6M180.0 497.5V446.7M180.2 497.5V451.5M180.7 497.5V454.7M181.0 497.5V450.5M181.5 497.5V452.2M181.8 497.5V453.8M182.2 497.5V455.3M182.6 497.5V460.2M183.1 497.5V460.5M183.6 497.5V460.1M183.8 497.5V463.4M184.3 497.5V472.9M184.7 497.5V465.1M185.2 497.5V475.4M185.4 497.5V467.8M186.0 497.5V468.1M186.2 497.5V466.4M186.6 497.5V467.0M187.1 497.5V463.3M187.6 497.5V464.9M188.0 497.5V456.8M188.4 497.5V454.6M188.7 497.5V457.5M189.1 497.5V455.6M189.5 497.5V452.7M189.9 497.5V449.9M190.3 497.5V445.6M190.8 497.5V441.8M191.0 497.5V446.8M191.4 497.5V438.3M192.0 497.5V436.9M192.3 497.5V441.5M192.7 497.5V442.4M193.2 497.5V446.9M193.5 497.5V445.5M193.9 497.5V451.7M194.4 497.5V457.8M194.7 497.5V452.0M195.2 497.5V452.0M195.5 497.5V452.6M195.9 497.5V456.6M196.4 497.5V457.8M196.7 497.5V458.9M197.1 497.5V463.7M197.5 497.5V464.4M198.0 497.5V465.5M198.2 497.5V468.3M198.6 497.5V470.7M199.2 497.5V472.9M199.4 497.5V477.9M199.9 497.5V477.7M200.3 497.5V481.3M200.7 497.5V485.1M201.0 497.5V493.2M201.4 497.5V493.4M201.8 497.5V495.4" fill="none" stroke="#0072BD" stroke-width="0.5" stroke-opacity="1.0"/>
<path d="M168.7 496.5h0M169.1 488.2h0M169.4 482.5h0M169.8 479.2h0M170.3 480.6h0M170.7 475.4h0M171.0 475.5h0M171.4 468.9h0M171.9 466.1h0M172.2 461.3h0M172.6 463.0h0M173.0 459.6h0M173.6 453.6h0M173.9 454.3h0M174.3 453.5h0M174.6 451.0h0M175.0 455.2h0M175.4 447.5h0M175.9 446.9h0M176.4 442.8h0M176.6 439.5h0M177.1 440.7h0M177.4 438.6h0M177.9 441.2h0M178.3 446.6h0M178.6 443.7h0M179.0 447.1h0M179.5 446.6h0M180.0 446.7h0M180.2 451.5h0M180.7 454.7h0M181.0 450.5h0M181.5 452.2h0M181.8 453.8h0M182.2 455.3h0M182.6 460.2h0M183.1 460.5h0M183.6 460.1h0M183.8 463.4h0M184.3 472.9h0M184.7 465.1h0M185.2 475.4h0M185.4 467.8h0M186.0 468.1h0M186.2 466.4h0M186.6 467.0h0M187.1 463.3h0M187.6 464.9h0M188.0 456.8h0M188.4 454.6h0M188.7 457.5h0M189.1 455.6h0M189.5 452.7h0M189.9 449.9h0M190.3 445.6h0M190.8 441.8h0M191.0 446.8h0M191.4 438.3h0M192.0 436.9h0M192.3 441.5h0M192.7 442.4h0M193.2 446.9h0M193.5 445.5h0M193.9 451.7h0M194.4 457.8h0M194.7 452.0h0M195.2 452.0h0M195.5 452.6h0M195.9 456.6h0M196.4 457.8h0M196.7 458.9h0M197.1 463.7h0M197.5 464.4h0M198.0 465.5h0M198.2 468.3h0M198.6 470.7h0M199.2 472.9h0M199.4 477.9h0M199.9 477.7h0M200.3 481.3h0M200.7 485.1h0M201.0 493.2h0M201.4 493.4h0M201.8 495.4h0" fill="none" stroke="#0072BD" stroke-width="1.0" stroke-linecap="round"/>
<path d="M202.0 497.5V454.8M203.0 497.5V443.4M204.0 497.5V432.4M205.0 497.5V438.5M206.0 497.5V449.3M207.0 497.5V422.5M208.0 497.5V421.2M209.0 497.5V426.7M210.0 497.5V416.9M211.0 497.5V449.8M212.0 497.5V420.7M213.0 497.5V430.0M214.0 497.5V452.7M215.0 497.5V424.9M216.0 497.5V427.8M217.0 497.5V442.7M218.0 497.5V448.1M219.0 497.5V433.0M220.0 497.5V467.2M221.0 497.5V479.0M222.0 497.5V448.0M223.0 497.5V458.2M224.0 497.5V462.7M225.0 497.5V469.2M226.0 497.5V495.4" fill="none" stroke="#0072BD" stroke-width="0.7" stroke-opacity="0.85"/>
<path d="M202.0 454.8h0M203.0 443.4h0M204.0 432.4h0M205.0 438.5h0M206.0 449.3h0M207.0 422.5h0M208.0 421.2h0M209.0 426.7h0M210.0 416.9h0M211.0 449.8h0M212.0 420.7h0M213.0 430.0h0M214.0 452.7h0M215.0 424.9h0M216.0 427.8h0M217.0 442.7h0M218.0 448.1h0M219.0 433.0h0M220.0 467.2h0M221.0 479.0h0M222.0 448.0h0M223.0 458.2h0M224.0 462.7h0M225.0 469.2h0M226.0 495.4h0" fill="none" stroke="#0072BD" stroke-width="0.9" stroke-linecap="round"/>
<path d="M229.7 497.5L229.7 497.5L230.1 441.6L230.6 440.4L231.0 439.2L231.5 438.0L231.9 436.8L232.4 435.6L232.8 434.4L233.3 433.5L233.7 432.7L234.2 431.9L234.6 431.1L235.1 430.3L235.5 429.5L236.0 428.7L236.4 423.0L236.9 387.4L237.3 384.8L237.8 382.2L238.2 380.8L238.7 380.5L239.1 380.2L239.6 379.9L240.0 379.6L240.5 379.3L240.9 379.0L241.4 379.1L241.8 379.3L242.3 379.4L242.7 379.6L243.2 379.7L243.6 379.9L244.1 380.4L244.5 382.2L245.0 384.0L245.4 385.8L245.4 497.5Z" fill="#C8743A" fill-opacity="1.0" stroke="none"/>
<path d="M230.1 497.5V446.3M230.6 497.5V441.1M231.2 497.5V440.0M231.6 497.5V443.1M231.9 497.5V442.4M232.4 497.5V441.7M232.9 497.5V436.9M233.2 497.5V437.4M233.7 497.5V434.7M234.3 497.5V435.9M234.6 497.5V431.6M235.1 497.5V430.6M235.6 497.5V433.3M236.1 497.5V432.0M236.3 497.5V430.9M236.9 497.5V391.6M237.4 497.5V385.9M237.7 497.5V382.5M238.2 497.5V382.2M238.7 497.5V387.9M239.0 497.5V383.4M239.6 497.5V381.0M240.1 497.5V380.2M240.6 497.5V383.1M241.0 497.5V380.0M241.3 497.5V379.7M242.0 497.5V386.0M242.2 497.5V384.4M242.8 497.5V389.6M243.2 497.5V382.7M243.8 497.5V380.5M244.2 497.5V381.4M244.5 497.5V385.2M245.1 497.5V390.5M245.5 497.5V391.3" fill="none" stroke="#C8743A" stroke-width="0.5" stroke-opacity="1.0"/>
<path d="M230.1 446.3h0M230.6 441.1h0M231.2 440.0h0M231.6 443.1h0M231.9 442.4h0M232.4 441.7h0M232.9 436.9h0M233.2 437.4h0M233.7 434.7h0M234.3 435.9h0M234.6 431.6h0M235.1 430.6h0M235.6 433.3h0M236.1 432.0h0M236.3 430.9h0M236.9 391.6h0M237.4 385.9h0M237.7 382.5h0M238.2 382.2h0M238.7 387.9h0M239.0 383.4h0M239.6 381.0h0M240.1 380.2h0M240.6 383.1h0M241.0 380.0h0M241.3 379.7h0M242.0 386.0h0M242.2 384.4h0M242.8 389.6h0M243.2 382.7h0M243.8 380.5h0M244.2 381.4h0M244.5 385.2h0M245.1 390.5h0M245.5 391.3h0" fill="none" stroke="#C8743A" stroke-width="1.0" stroke-linecap="round"/>
<path d="M229.5 497.5L229.5 497.5L229.9 490.9L230.3 484.3L230.7 477.7L231.1 474.6L231.5 472.7L231.9 470.8L232.3 468.9L232.7 467.0L233.1 468.9L233.5 470.8L233.9 472.7L234.3 474.6L234.7 477.5L235.1 483.7L235.5 489.8L235.9 496.0L235.9 497.5Z" fill="#EDB120" fill-opacity="1.0" stroke="none"/>
<path d="M229.8 497.5V492.2M230.2 497.5V484.9M230.8 497.5V477.9M231.1 497.5V476.2M231.4 497.5V473.7M231.9 497.5V472.0M232.3 497.5V469.5M232.8 497.5V467.9M233.1 497.5V469.6M233.5 497.5V471.7M233.9 497.5V473.0M234.3 497.5V475.3M234.8 497.5V478.9M235.1 497.5V484.7M235.5 497.5V490.6M235.9 497.5V496.5" fill="none" stroke="#EDB120" stroke-width="0.5" stroke-opacity="1.0"/>
<path d="M229.8 492.2h0M230.2 484.9h0M230.8 477.9h0M231.1 476.2h0M231.4 473.7h0M231.9 472.0h0M232.3 469.5h0M232.8 467.9h0M233.1 469.6h0M233.5 471.7h0M233.9 473.0h0M234.3 475.3h0M234.8 478.9h0M235.1 484.7h0M235.5 490.6h0M235.9 496.5h0" fill="none" stroke="#EDB120" stroke-width="1.0" stroke-linecap="round"/>
<path d="M180.8 497.5L180.8 497.5L181.2 488.7L181.6 480.0L182.0 487.8L182.4 495.6L182.4 497.5Z" fill="#EDB120" fill-opacity="1.0" stroke="none"/>
<path d="M181.3 497.5V488.7M181.6 497.5V480.0M181.9 497.5V487.8M182.4 497.5V495.6" fill="none" stroke="#EDB120" stroke-width="0.5" stroke-opacity="1.0"/>
<path d="M181.3 488.7h0M181.6 480.0h0M181.9 487.8h0M182.4 495.6h0" fill="none" stroke="#EDB120" stroke-width="1.0" stroke-linecap="round"/>
<path d="M175.5 497.5L175.5 497.5L176.0 496.0L176.5 494.5L177.0 493.0L177.5 494.5L178.0 496.0L178.5 497.5L178.5 497.5Z" fill="#EDB120" fill-opacity="1.0" stroke="none"/>
<path d="M176.0 497.5V496.0M176.5 497.5V494.5M177.1 497.5V493.0M177.4 497.5V494.5M177.9 497.5V496.0" fill="none" stroke="#EDB120" stroke-width="0.5" stroke-opacity="1.0"/>
<path d="M176.0 496.0h0M176.5 494.5h0M177.1 493.0h0M177.4 494.5h0M177.9 496.0h0" fill="none" stroke="#EDB120" stroke-width="1.0" stroke-linecap="round"/>
<path d="M204.0 497.5V454.1M204.8 497.5V424.0M206.4 497.5V421.7M207.2 497.5V425.6M208.0 497.5V426.0M208.8 497.5V412.5M209.6 497.5V430.0M210.4 497.5V438.5M211.2 497.5V448.8M212.0 497.5V446.3M212.8 497.5V404.2M213.6 497.5V406.8M214.4 497.5V440.4M215.2 497.5V416.3M216.0 497.5V409.2M216.8 497.5V420.2M217.6 497.5V405.0M218.4 497.5V413.1M219.2 497.5V466.1M220.0 497.5V464.7M220.8 497.5V417.2M221.6 497.5V427.3M222.4 497.5V425.1M223.2 497.5V446.2M224.0 497.5V435.4M224.8 497.5V438.7M225.6 497.5V434.4M226.4 497.5V460.9M227.2 497.5V449.6M228.8 497.5V478.2" fill="none" stroke="#7E2F8E" stroke-width="0.7" stroke-opacity="0.8"/>
<path d="M204.0 454.1h0M204.8 424.0h0M206.4 421.7h0M207.2 425.6h0M208.0 426.0h0M208.8 412.5h0M209.6 430.0h0M210.4 438.5h0M211.2 448.8h0M212.0 446.3h0M212.8 404.2h0M213.6 406.8h0M214.4 440.4h0M215.2 416.3h0M216.0 409.2h0M216.8 420.2h0M217.6 405.0h0M218.4 413.1h0M219.2 466.1h0M220.0 464.7h0M220.8 417.2h0M221.6 427.3h0M222.4 425.1h0M223.2 446.2h0M224.0 435.4h0M224.8 438.7h0M225.6 434.4h0M226.4 460.9h0M227.2 449.6h0M228.8 478.2h0" fill="none" stroke="#7E2F8E" stroke-width="1.2" stroke-linecap="round"/>
<path d="M216.8 497.5L216.8 497.5L217.3 429.8L217.8 428.7L218.3 427.6L218.8 426.4L219.3 426.6L219.8 427.6L220.3 428.6L220.8 429.6L221.3 463.8L221.3 497.5Z" fill="#7E2F8E" fill-opacity="1.0" stroke="none"/>
<path d="M217.2 497.5V437.5M217.9 497.5V435.3M218.3 497.5V431.0M218.7 497.5V426.5M219.3 497.5V431.5M219.9 497.5V428.4M220.4 497.5V428.6M220.7 497.5V429.8M221.4 497.5V469.3" fill="none" stroke="#7E2F8E" stroke-width="0.5" stroke-opacity="1.0"/>
<path d="M217.2 437.5h0M217.9 435.3h0M218.3 431.0h0M218.7 426.5h0M219.3 431.5h0M219.9 428.4h0M220.4 428.6h0M220.7 429.8h0M221.4 469.3h0" fill="none" stroke="#7E2F8E" stroke-width="1.0" stroke-linecap="round"/>
<path d="M203.0 497.5L203.0 497.5L203.4 492.8L203.8 488.1L204.2 483.4L204.6 478.7L205.0 474.0L205.4 473.5L205.8 473.1L206.2 472.6L206.6 472.2L207.0 471.7L207.4 471.3L207.8 470.8L208.2 470.3L208.6 469.9L209.0 469.4L209.4 469.0L209.8 468.5L210.2 468.1L210.6 467.6L211.0 467.1L211.4 466.7L211.8 466.2L212.2 465.9L212.6 465.7L213.0 465.4L213.4 465.2L213.8 465.0L214.2 464.7L214.6 464.5L215.0 464.3L215.4 464.1L215.8 463.8L216.2 463.6L216.6 463.4L217.0 463.1L217.4 462.9L217.8 462.7L218.2 462.5L218.6 462.2L219.0 462.0L219.4 464.6L219.8 467.2L220.2 469.8L220.6 472.4L221.0 475.0L221.4 475.4L221.8 475.8L222.2 476.2L222.6 476.6L223.0 477.0L223.4 477.4L223.8 477.8L224.2 478.2L224.6 478.6L225.0 479.0L225.4 479.4L225.8 479.8L226.2 480.2L226.6 480.6L227.0 481.0L227.4 481.4L227.8 481.8L228.2 484.1L228.6 488.2L229.0 492.3L229.4 496.5L229.4 497.5Z" fill="#7E2F8E" fill-opacity="1.0" stroke="none"/>
<path d="M203.4 497.5V497.0M203.7 497.5V489.5M204.1 497.5V486.6M204.5 497.5V481.5M205.0 497.5V475.6M205.5 497.5V476.4M205.7 497.5V476.2M206.3 497.5V480.8M206.7 497.5V476.5M207.0 497.5V482.2M207.3 497.5V473.7M207.9 497.5V472.8M208.1 497.5V470.5M208.6 497.5V473.9M209.0 497.5V471.6M209.5 497.5V469.8M209.7 497.5V470.3M210.3 497.5V473.4M210.5 497.5V469.2M210.9 497.5V470.0M211.4 497.5V468.4M211.8 497.5V466.9M212.2 497.5V469.3M212.6 497.5V465.7M213.1 497.5V467.4M213.4 497.5V466.4M213.9 497.5V467.5M214.1 497.5V465.5M214.7 497.5V466.9M215.1 497.5V465.1M215.4 497.5V467.2M215.9 497.5V466.4M216.2 497.5V466.4M216.7 497.5V466.0M217.1 497.5V465.5M217.3 497.5V463.3M217.9 497.5V464.2M218.3 497.5V462.8M218.6 497.5V462.7M219.0 497.5V468.0M219.5 497.5V467.3M219.9 497.5V471.0M220.2 497.5V476.2M220.6 497.5V474.1M220.9 497.5V479.4M221.5 497.5V476.5M221.7 497.5V476.9M222.3 497.5V483.2M222.7 497.5V479.8M223.1 497.5V478.4M223.3 497.5V478.1M223.8 497.5V480.5M224.2 497.5V481.3M224.6 497.5V485.3M224.9 497.5V481.0M225.5 497.5V481.1M225.7 497.5V480.2M226.2 497.5V483.7M226.7 497.5V484.6M227.0 497.5V482.0M227.5 497.5V484.9M227.8 497.5V487.5M228.2 497.5V484.5M228.6 497.5V495.4M229.1 497.5V497.0" fill="none" stroke="#7E2F8E" stroke-width="0.5" stroke-opacity="1.0"/>
<path d="M203.4 497.0h0M203.7 489.5h0M204.1 486.6h0M204.5 481.5h0M205.0 475.6h0M205.5 476.4h0M205.7 476.2h0M206.3 480.8h0M206.7 476.5h0M207.0 482.2h0M207.3 473.7h0M207.9 472.8h0M208.1 470.5h0M208.6 473.9h0M209.0 471.6h0M209.5 469.8h0M209.7 470.3h0M210.3 473.4h0M210.5 469.2h0M210.9 470.0h0M211.4 468.4h0M211.8 466.9h0M212.2 469.3h0M212.6 465.7h0M213.1 467.4h0M213.4 466.4h0M213.9 467.5h0M214.1 465.5h0M214.7 466.9h0M215.1 465.1h0M215.4 467.2h0M215.9 466.4h0M216.2 466.4h0M216.7 466.0h0M217.1 465.5h0M217.3 463.3h0M217.9 464.2h0M218.3 462.8h0M218.6 462.7h0M219.0 468.0h0M219.5 467.3h0M219.9 471.0h0M220.2 476.2h0M220.6 474.1h0M220.9 479.4h0M221.5 476.5h0M221.7 476.9h0M222.3 483.2h0M222.7 479.8h0M223.1 478.4h0M223.3 478.1h0M223.8 480.5h0M224.2 481.3h0M224.6 485.3h0M224.9 481.0h0M225.5 481.1h0M225.7 480.2h0M226.2 483.7h0M226.7 484.6h0M227.0 482.0h0M227.5 484.9h0M227.8 487.5h0M228.2 484.5h0M228.6 495.4h0M229.1 497.0h0" fill="none" stroke="#7E2F8E" stroke-width="1.0" stroke-linecap="round"/>
<path d="M235.5 497.5L235.5 497.5L235.9 475.5L236.3 468.1L236.7 465.6L237.1 463.1L237.5 460.6L237.9 458.1L238.3 455.6L238.7 453.1L239.1 450.6L239.5 448.1L239.9 445.6L240.3 443.6L240.7 441.8L241.1 440.0L241.5 438.2L241.9 436.4L242.3 434.6L242.7 432.8L243.1 431.0L243.5 429.2L243.9 427.4L244.3 419.2L244.7 408.7L245.1 398.3L245.5 387.8L245.9 378.7L246.3 373.3L246.7 368.0L247.1 363.8L247.5 363.0L247.9 362.2L248.3 361.4L248.7 361.5L249.1 362.6L249.5 363.7L249.9 364.7L250.3 377.0L250.7 412.5L251.1 444.7L251.5 454.2L251.9 463.6L252.3 466.2L252.7 466.5L253.1 466.7L253.5 467.0L253.9 467.3L254.3 467.5L254.7 467.8L255.1 468.1L255.5 468.3L255.9 468.6L256.3 468.9L256.7 469.1L257.1 469.4L257.5 469.7L257.9 469.9L258.3 470.3L258.7 470.7L259.1 471.1L259.5 471.5L259.9 471.9L260.3 472.3L260.7 472.7L261.1 472.9L261.5 472.4L261.9 472.0L262.3 471.6L262.7 471.1L263.1 470.7L263.5 470.2L263.5 497.5Z" fill="#7E2F8E" fill-opacity="1.0" stroke="none"/>
<path d="M235.9 497.5V477.5M236.4 497.5V469.5M236.7 497.5V466.4M237.2 497.5V464.4M237.6 497.5V461.6M237.8 497.5V459.3M238.4 497.5V457.3M238.7 497.5V454.1M239.2 497.5V454.0M239.4 497.5V449.7M239.9 497.5V446.7M240.2 497.5V446.5M240.6 497.5V445.4M241.0 497.5V441.6M241.4 497.5V444.4M241.8 497.5V438.9M242.3 497.5V436.3M242.7 497.5V434.3M243.1 497.5V434.9M243.4 497.5V429.5M244.0 497.5V432.6M244.4 497.5V419.8M244.7 497.5V415.7M245.1 497.5V399.0M245.5 497.5V392.9M246.0 497.5V380.1M246.3 497.5V373.7M246.8 497.5V370.5M247.1 497.5V365.8M247.4 497.5V365.0M247.8 497.5V362.8M248.4 497.5V370.2M248.7 497.5V364.1M249.0 497.5V362.7M249.4 497.5V370.7M249.8 497.5V367.4M250.3 497.5V381.7M250.6 497.5V415.1M251.2 497.5V449.3M251.5 497.5V454.5M251.9 497.5V464.8M252.3 497.5V468.3M252.7 497.5V468.8M253.0 497.5V468.7M253.4 497.5V470.8M254.0 497.5V473.2M254.2 497.5V468.9M254.8 497.5V469.5M255.0 497.5V469.0M255.6 497.5V469.5M255.8 497.5V468.7M256.3 497.5V469.0M256.8 497.5V470.8M257.2 497.5V469.7M257.4 497.5V470.1M257.8 497.5V472.5M258.3 497.5V472.2M258.8 497.5V472.2M259.1 497.5V472.2M259.5 497.5V473.7M259.8 497.5V474.8M260.2 497.5V473.2M260.7 497.5V475.0M261.0 497.5V476.9M261.6 497.5V472.9M261.9 497.5V474.9M262.3 497.5V471.9M262.7 497.5V476.1M263.0 497.5V471.4M263.4 497.5V472.8" fill="none" stroke="#7E2F8E" stroke-width="0.5" stroke-opacity="1.0"/>
<path d="M235.9 477.5h0M236.4 469.5h0M236.7 466.4h0M237.2 464.4h0M237.6 461.6h0M237.8 459.3h0M238.4 457.3h0M238.7 454.1h0M239.2 454.0h0M239.4 449.7h0M239.9 446.7h0M240.2 446.5h0M240.6 445.4h0M241.0 441.6h0M241.4 444.4h0M241.8 438.9h0M242.3 436.3h0M242.7 434.3h0M243.1 434.9h0M243.4 429.5h0M244.0 432.6h0M244.4 419.8h0M244.7 415.7h0M245.1 399.0h0M245.5 392.9h0M246.0 380.1h0M246.3 373.7h0M246.8 370.5h0M247.1 365.8h0M247.4 365.0h0M247.8 362.8h0M248.4 370.2h0M248.7 364.1h0M249.0 362.7h0M249.4 370.7h0M249.8 367.4h0M250.3 381.7h0M250.6 415.1h0M251.2 449.3h0M251.5 454.5h0M251.9 464.8h0M252.3 468.3h0M252.7 468.8h0M253.0 468.7h0M253.4 470.8h0M254.0 473.2h0M254.2 468.9h0M254.8 469.5h0M255.0 469.0h0M255.6 469.5h0M255.8 468.7h0M256.3 469.0h0M256.8 470.8h0M257.2 469.7h0M257.4 470.1h0M257.8 472.5h0M258.3 472.2h0M258.8 472.2h0M259.1 472.2h0M259.5 473.7h0M259.8 474.8h0M260.2 473.2h0M260.7 475.0h0M261.0 476.9h0M261.6 472.9h0M261.9 474.9h0M262.3 471.9h0M262.7 476.1h0M263.0 471.4h0M263.4 472.8h0" fill="none" stroke="#7E2F8E" stroke-width="1.0" stroke-linecap="round"/>
<path d="M239.7 497.5L239.7 497.5L240.1 487.3L240.5 477.1L240.9 471.1L241.3 469.4L241.7 469.5L242.1 471.5L242.5 475.7L242.9 486.6L242.9 497.5Z" fill="#EDB120" fill-opacity="1.0" stroke="none"/>
<path d="M240.0 497.5V487.8M240.6 497.5V477.2M241.0 497.5V471.9M241.4 497.5V469.7M241.7 497.5V470.1M242.0 497.5V472.7M242.5 497.5V477.5M242.8 497.5V487.3" fill="none" stroke="#EDB120" stroke-width="0.5" stroke-opacity="1.0"/>
<path d="M240.0 487.8h0M240.6 477.2h0M241.0 471.9h0M241.4 469.7h0M241.7 470.1h0M242.0 472.7h0M242.5 477.5h0M242.8 487.3h0" fill="none" stroke="#EDB120" stroke-width="1.0" stroke-linecap="round"/>
<path d="M220.0 497.5L220.0 497.5L220.4 486.0L220.9 474.6L221.3 471.0L221.8 469.8L222.2 468.5L222.7 467.2L223.1 466.0L223.6 465.1L224.0 465.4L224.5 465.8L224.9 466.2L225.4 466.5L225.8 466.9L226.3 468.2L226.7 470.0L227.2 471.8L227.6 473.6L228.1 476.7L228.5 484.5L229.0 492.3L229.0 497.5Z" fill="#C8432B" fill-opacity="1.0" stroke="none"/>
<path d="M220.6 497.5V488.4M220.8 497.5V475.4M221.4 497.5V474.8M221.9 497.5V472.6M222.4 497.5V472.1M222.8 497.5V472.2M223.2 497.5V468.4M223.5 497.5V466.9M224.0 497.5V465.5M224.5 497.5V469.4M224.9 497.5V473.4M225.4 497.5V470.8M225.9 497.5V469.1M226.4 497.5V471.3M226.7 497.5V475.6M227.2 497.5V476.1M227.5 497.5V477.7M228.0 497.5V483.4M228.4 497.5V484.8M229.0 497.5V494.5" fill="none" stroke="#C8432B" stroke-width="0.5" stroke-opacity="1.0"/>
<path d="M220.6 488.4h0M220.8 475.4h0M221.4 474.8h0M221.9 472.6h0M222.4 472.1h0M222.8 472.2h0M223.2 468.4h0M223.5 466.9h0M224.0 465.5h0M224.5 469.4h0M224.9 473.4h0M225.4 470.8h0M225.9 469.1h0M226.4 471.3h0M226.7 475.6h0M227.2 476.1h0M227.5 477.7h0M228.0 483.4h0M228.4 484.8h0M229.0 494.5h0" fill="none" stroke="#C8432B" stroke-width="1.0" stroke-linecap="round"/>
<g><text x="37.60" y="234.00" text-anchor="end" font-size="8.5" fill="#262626"><tspan letter-spacing="-0.35">10</tspan><tspan dy="-3.9" font-size="6.9" dx="0.5">-21</tspan></text><text x="37.60" y="178.40" text-anchor="end" font-size="8.5" fill="#262626"><tspan letter-spacing="-0.35">10</tspan><tspan dy="-3.9" font-size="6.9" dx="0.5">-20</tspan></text><text x="37.60" y="122.80" text-anchor="end" font-size="8.5" fill="#262626"><tspan letter-spacing="-0.35">10</tspan><tspan dy="-3.9" font-size="6.9" dx="0.5">-19</tspan></text><text x="37.60" y="67.20" text-anchor="end" font-size="8.5" fill="#262626"><tspan letter-spacing="-0.35">10</tspan><tspan dy="-3.9" font-size="6.9" dx="0.5">-18</tspan></text><text x="37.60" y="11.60" text-anchor="end" font-size="8.5" fill="#262626"><tspan letter-spacing="-0.35">10</tspan><tspan dy="-3.9" font-size="6.9" dx="0.5">-17</tspan></text><text x="41.50" y="243.6" text-anchor="middle" font-size="8.9" fill="#262626">2.5</text><text x="86.70" y="243.6" text-anchor="middle" font-size="8.9" fill="#262626">3</text><text x="131.90" y="243.6" text-anchor="middle" font-size="8.9" fill="#262626">3.5</text><text x="177.10" y="243.6" text-anchor="middle" font-size="8.9" fill="#262626">4</text><text x="222.30" y="243.6" text-anchor="middle" font-size="8.9" fill="#262626">4.5</text><text x="267.50" y="243.6" text-anchor="middle" font-size="8.9" fill="#262626">5</text><text x="154.50" y="255.3" text-anchor="middle" font-size="9.6" fill="#262626">Wavelength (<tspan font-family="'Liberation Serif', serif" font-style="italic" font-size="10.5">μ</tspan>m)</text><text transform="translate(12.9 119.10) rotate(-90)" text-anchor="middle" font-size="9.45" fill="#262626">Line strength (cm<tspan dy="-3.8" font-size="6.8">-1</tspan><tspan dy="3.8">/(mol cm</tspan><tspan dy="-3.8" font-size="6.8">-2</tspan><tspan dy="3.8">)</tspan></text></g>
<g><text x="37.60" y="502.00" text-anchor="end" font-size="8.5" fill="#262626"><tspan letter-spacing="-0.35">10</tspan><tspan dy="-3.9" font-size="6.9" dx="0.5">-21</tspan></text><text x="37.60" y="428.03" text-anchor="end" font-size="8.5" fill="#262626"><tspan letter-spacing="-0.35">10</tspan><tspan dy="-3.9" font-size="6.9" dx="0.5">-20</tspan></text><text x="37.60" y="354.07" text-anchor="end" font-size="8.5" fill="#262626"><tspan letter-spacing="-0.35">10</tspan><tspan dy="-3.9" font-size="6.9" dx="0.5">-19</tspan></text><text x="37.60" y="280.10" text-anchor="end" font-size="8.5" fill="#262626"><tspan letter-spacing="-0.35">10</tspan><tspan dy="-3.9" font-size="6.9" dx="0.5">-18</tspan></text><text x="41.50" y="511.6" text-anchor="middle" font-size="8.9" fill="#262626">5</text><text x="78.53" y="511.6" text-anchor="middle" font-size="8.9" fill="#262626">5.5</text><text x="115.57" y="511.6" text-anchor="middle" font-size="8.9" fill="#262626">6</text><text x="152.60" y="511.6" text-anchor="middle" font-size="8.9" fill="#262626">6.5</text><text x="189.63" y="511.6" text-anchor="middle" font-size="8.9" fill="#262626">7</text><text x="226.67" y="511.6" text-anchor="middle" font-size="8.9" fill="#262626">7.5</text><text x="263.70" y="511.6" text-anchor="middle" font-size="8.9" fill="#262626">8</text><text x="152.60" y="523.6" text-anchor="middle" font-size="9.6" fill="#262626">Wavelength (<tspan font-family="'Liberation Serif', serif" font-style="italic" font-size="10.5">μ</tspan>m)</text><text transform="translate(12.9 387.35) rotate(-90)" text-anchor="middle" font-size="9.45" fill="#262626">Line strength (cm<tspan dy="-3.8" font-size="6.8">-1</tspan><tspan dy="3.8">/(mol cm</tspan><tspan dy="-3.8" font-size="6.8">-2</tspan><tspan dy="3.8">)</tspan></text></g>
<g><rect x="279.2" y="35.8" width="59.900000000000034" height="165.10000000000002" fill="#fff" stroke="#4a4a4a" stroke-width="0.9"/><line x1="284.3" x2="303.1" y1="42.70" y2="42.70" stroke="#0072BD" stroke-width="1.0" stroke-opacity="0.6"/><circle cx="303.1" cy="42.70" r="0.85" fill="#0072BD"/><text x="313" y="45.60" font-size="8" fill="#000" style="stroke:#000;stroke-width:0.32px">CO2</text><line x1="284.3" x2="303.1" y1="53.56" y2="53.56" stroke="#D95319" stroke-width="1.0" stroke-opacity="0.6"/><circle cx="303.1" cy="53.56" r="0.85" fill="#D95319"/><text x="313" y="56.46" font-size="8" fill="#000" style="stroke:#000;stroke-width:0.32px">N2O</text><line x1="284.3" x2="303.1" y1="64.42" y2="64.42" stroke="#EDB120" stroke-width="1.0" stroke-opacity="0.6"/><circle cx="303.1" cy="64.42" r="0.85" fill="#EDB120"/><text x="313" y="67.32" font-size="8" fill="#000" style="stroke:#000;stroke-width:0.32px">CO</text><line x1="284.3" x2="303.1" y1="75.28" y2="75.28" stroke="#7E2F8E" stroke-width="1.0" stroke-opacity="0.6"/><circle cx="303.1" cy="75.28" r="0.85" fill="#7E2F8E"/><text x="313" y="78.18" font-size="8" fill="#000" style="stroke:#000;stroke-width:0.32px">CH4</text><line x1="284.3" x2="303.1" y1="86.14" y2="86.14" stroke="#77AC30" stroke-width="1.0" stroke-opacity="0.6"/><circle cx="303.1" cy="86.14" r="0.85" fill="#77AC30"/><text x="313" y="89.04" font-size="8" fill="#000" style="stroke:#000;stroke-width:0.32px">SO2</text><line x1="284.3" x2="303.1" y1="97.00" y2="97.00" stroke="#4DBEEE" stroke-width="1.0" stroke-opacity="0.6"/><circle cx="303.1" cy="97.00" r="0.85" fill="#4DBEEE"/><text x="313" y="99.90" font-size="8" fill="#000" style="stroke:#000;stroke-width:0.32px">NO2</text><line x1="284.3" x2="303.1" y1="107.86" y2="107.86" stroke="#A2142F" stroke-width="1.0" stroke-opacity="0.6"/><circle cx="303.1" cy="107.86" r="0.85" fill="#A2142F"/><text x="313" y="110.76" font-size="8" fill="#000" style="stroke:#000;stroke-width:0.32px">NH3</text><line x1="284.3" x2="303.1" y1="118.72" y2="118.72" stroke="#0072BD" stroke-width="1.0" stroke-opacity="0.6"/><circle cx="303.1" cy="118.72" r="0.85" fill="#0072BD"/><text x="313" y="121.62" font-size="8" fill="#000" style="stroke:#000;stroke-width:0.32px">HCl</text><line x1="284.3" x2="303.1" y1="129.58" y2="129.58" stroke="#D95319" stroke-width="1.0" stroke-opacity="0.6"/><circle cx="303.1" cy="129.58" r="0.85" fill="#D95319"/><text x="313" y="132.48" font-size="8" fill="#000" style="stroke:#000;stroke-width:0.32px">HBr</text><line x1="284.3" x2="303.1" y1="140.44" y2="140.44" stroke="#EDB120" stroke-width="1.0" stroke-opacity="0.6"/><circle cx="303.1" cy="140.44" r="0.85" fill="#EDB120"/><text x="313" y="143.34" font-size="8" fill="#000" style="stroke:#000;stroke-width:0.32px">HCN</text><line x1="284.3" x2="303.1" y1="151.30" y2="151.30" stroke="#7E2F8E" stroke-width="1.0" stroke-opacity="0.6"/><circle cx="303.1" cy="151.30" r="0.85" fill="#7E2F8E"/><text x="313" y="154.20" font-size="8" fill="#000" style="stroke:#000;stroke-width:0.32px">CH3Cl</text><line x1="284.3" x2="303.1" y1="162.16" y2="162.16" stroke="#77AC30" stroke-width="1.0" stroke-opacity="0.6"/><circle cx="303.1" cy="162.16" r="0.85" fill="#77AC30"/><text x="313" y="165.06" font-size="8" fill="#000" style="stroke:#000;stroke-width:0.32px">C2H2</text><line x1="284.3" x2="303.1" y1="173.02" y2="173.02" stroke="#4DBEEE" stroke-width="1.0" stroke-opacity="0.6"/><circle cx="303.1" cy="173.02" r="0.85" fill="#4DBEEE"/><text x="313" y="175.92" font-size="8" fill="#000" style="stroke:#000;stroke-width:0.32px">C2H6</text><line x1="284.3" x2="303.1" y1="183.88" y2="183.88" stroke="#A2142F" stroke-width="1.0" stroke-opacity="0.6"/><circle cx="303.1" cy="183.88" r="0.85" fill="#A2142F"/><text x="313" y="186.78" font-size="8" fill="#000" style="stroke:#000;stroke-width:0.32px">PH3</text><line x1="284.3" x2="303.1" y1="194.74" y2="194.74" stroke="#0072BD" stroke-width="1.0" stroke-opacity="0.6"/><circle cx="303.1" cy="194.74" r="0.85" fill="#0072BD"/><text x="313" y="197.64" font-size="8" fill="#000" style="stroke:#000;stroke-width:0.32px">C2H4</text></g>
<g><rect x="275.3" y="287.5" width="63.89999999999998" height="197.2" fill="#fff" stroke="#4a4a4a" stroke-width="0.9"/><line x1="280.7" x2="299.4" y1="294.70" y2="294.70" stroke="#0072BD" stroke-width="1.0" stroke-opacity="0.6"/><circle cx="299.4" cy="294.70" r="0.85" fill="#0072BD"/><text x="309.5" y="297.60" font-size="8" fill="#000" style="stroke:#000;stroke-width:0.32px">N2O</text><line x1="280.7" x2="299.4" y1="305.53" y2="305.53" stroke="#D95319" stroke-width="1.0" stroke-opacity="0.6"/><circle cx="299.4" cy="305.53" r="0.85" fill="#D95319"/><text x="309.5" y="308.43" font-size="8" fill="#000" style="stroke:#000;stroke-width:0.32px">CH4</text><line x1="280.7" x2="299.4" y1="316.36" y2="316.36" stroke="#EDB120" stroke-width="1.0" stroke-opacity="0.6"/><circle cx="299.4" cy="316.36" r="0.85" fill="#EDB120"/><text x="309.5" y="319.26" font-size="8" fill="#000" style="stroke:#000;stroke-width:0.32px">O2</text><line x1="280.7" x2="299.4" y1="327.19" y2="327.19" stroke="#7E2F8E" stroke-width="1.0" stroke-opacity="0.6"/><circle cx="299.4" cy="327.19" r="0.85" fill="#7E2F8E"/><text x="309.5" y="330.09" font-size="8" fill="#000" style="stroke:#000;stroke-width:0.32px">NO</text><line x1="280.7" x2="299.4" y1="338.02" y2="338.02" stroke="#77AC30" stroke-width="1.0" stroke-opacity="0.6"/><circle cx="299.4" cy="338.02" r="0.85" fill="#77AC30"/><text x="309.5" y="340.92" font-size="8" fill="#000" style="stroke:#000;stroke-width:0.32px">SO2</text><line x1="280.7" x2="299.4" y1="348.85" y2="348.85" stroke="#4DBEEE" stroke-width="1.0" stroke-opacity="0.6"/><circle cx="299.4" cy="348.85" r="0.85" fill="#4DBEEE"/><text x="309.5" y="351.75" font-size="8" fill="#000" style="stroke:#000;stroke-width:0.32px">NO2</text><line x1="280.7" x2="299.4" y1="359.68" y2="359.68" stroke="#A2142F" stroke-width="1.0" stroke-opacity="0.6"/><circle cx="299.4" cy="359.68" r="0.85" fill="#A2142F"/><text x="309.5" y="362.58" font-size="8" fill="#000" style="stroke:#000;stroke-width:0.32px">NH3</text><line x1="280.7" x2="299.4" y1="370.51" y2="370.51" stroke="#0072BD" stroke-width="1.0" stroke-opacity="0.6"/><circle cx="299.4" cy="370.51" r="0.85" fill="#0072BD"/><text x="309.5" y="373.41" font-size="8" fill="#000" style="stroke:#000;stroke-width:0.32px">HCN</text><line x1="280.7" x2="299.4" y1="381.34" y2="381.34" stroke="#D95319" stroke-width="1.0" stroke-opacity="0.6"/><circle cx="299.4" cy="381.34" r="0.85" fill="#D95319"/><text x="309.5" y="384.24" font-size="8" fill="#000" style="stroke:#000;stroke-width:0.32px">CH3Cl</text><line x1="280.7" x2="299.4" y1="392.17" y2="392.17" stroke="#EDB120" stroke-width="1.0" stroke-opacity="0.6"/><circle cx="299.4" cy="392.17" r="0.85" fill="#EDB120"/><text x="309.5" y="395.07" font-size="8" fill="#000" style="stroke:#000;stroke-width:0.32px">H2O2</text><line x1="280.7" x2="299.4" y1="403.00" y2="403.00" stroke="#7E2F8E" stroke-width="1.0" stroke-opacity="0.6"/><circle cx="299.4" cy="403.00" r="0.85" fill="#7E2F8E"/><text x="309.5" y="405.90" font-size="8" fill="#000" style="stroke:#000;stroke-width:0.32px">C2H2</text><line x1="280.7" x2="299.4" y1="413.83" y2="413.83" stroke="#77AC30" stroke-width="1.0" stroke-opacity="0.6"/><circle cx="299.4" cy="413.83" r="0.85" fill="#77AC30"/><text x="309.5" y="416.73" font-size="8" fill="#000" style="stroke:#000;stroke-width:0.32px">C2H6</text><line x1="280.7" x2="299.4" y1="424.66" y2="424.66" stroke="#4DBEEE" stroke-width="1.0" stroke-opacity="0.6"/><circle cx="299.4" cy="424.66" r="0.85" fill="#4DBEEE"/><text x="309.5" y="427.56" font-size="8" fill="#000" style="stroke:#000;stroke-width:0.32px">PH3</text><line x1="280.7" x2="299.4" y1="435.49" y2="435.49" stroke="#A2142F" stroke-width="1.0" stroke-opacity="0.6"/><circle cx="299.4" cy="435.49" r="0.85" fill="#A2142F"/><text x="309.5" y="438.39" font-size="8" fill="#000" style="stroke:#000;stroke-width:0.32px">COF2</text><line x1="280.7" x2="299.4" y1="446.32" y2="446.32" stroke="#0072BD" stroke-width="1.0" stroke-opacity="0.6"/><circle cx="299.4" cy="446.32" r="0.85" fill="#0072BD"/><text x="309.5" y="449.22" font-size="8" fill="#000" style="stroke:#000;stroke-width:0.32px">C2H4</text><line x1="280.7" x2="299.4" y1="457.15" y2="457.15" stroke="#D95319" stroke-width="1.0" stroke-opacity="0.6"/><circle cx="299.4" cy="457.15" r="0.85" fill="#D95319"/><text x="309.5" y="460.05" font-size="8" fill="#000" style="stroke:#000;stroke-width:0.32px">CH3OH</text><line x1="280.7" x2="299.4" y1="467.98" y2="467.98" stroke="#EDB120" stroke-width="1.0" stroke-opacity="0.6"/><circle cx="299.4" cy="467.98" r="0.85" fill="#EDB120"/><text x="309.5" y="470.88" font-size="8" fill="#000" style="stroke:#000;stroke-width:0.32px">CH3Br</text><line x1="280.7" x2="299.4" y1="478.81" y2="478.81" stroke="#7E2F8E" stroke-width="1.0" stroke-opacity="0.6"/><circle cx="299.4" cy="478.81" r="0.85" fill="#7E2F8E"/><text x="309.5" y="481.71" font-size="8" fill="#000" style="stroke:#000;stroke-width:0.32px">CF4</text></g>
</svg>
</body></html>
